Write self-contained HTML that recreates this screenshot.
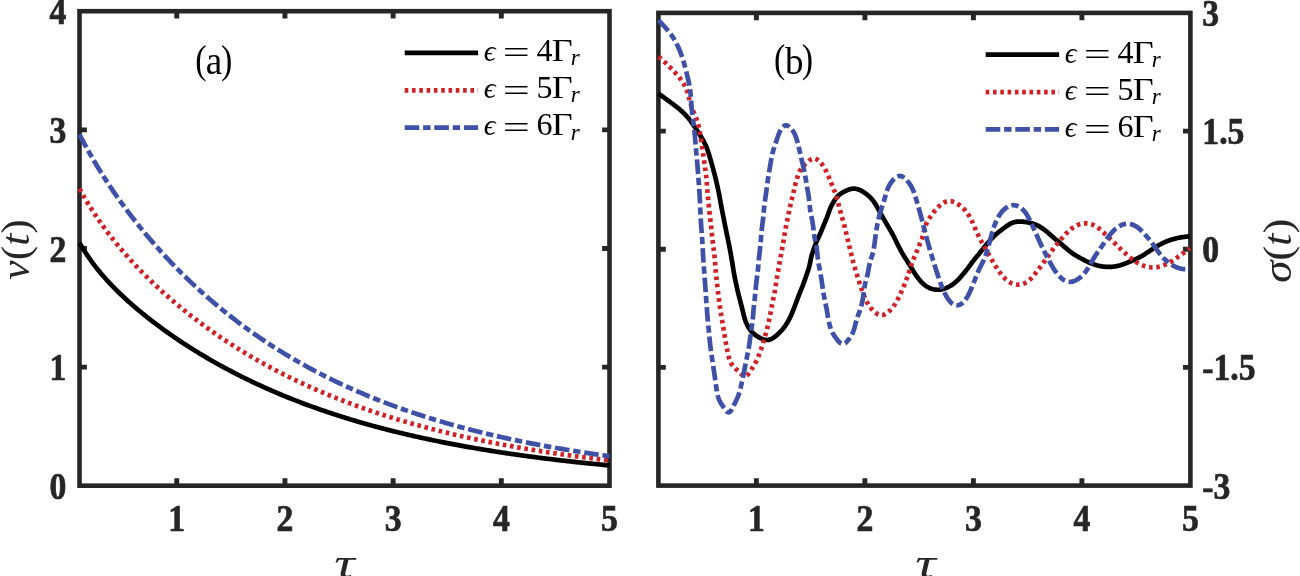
<!DOCTYPE html>
<html><head><meta charset="utf-8"><title>plot</title>
<style>html,body{margin:0;padding:0;background:#fff;}body{width:1300px;height:576px;overflow:hidden;}svg{display:block;}</style>
</head><body>
<svg width="1300" height="576" viewBox="0 0 1300 576">
<rect width="1300" height="576" fill="#fff"/>
<rect x="79.5" y="11.2" width="530.00" height="474.50" fill="none" stroke="#262626" stroke-width="4.6"/>
<path d="M176.75 485.70V478.30M176.75 11.20V18.60M284.94 485.70V478.30M284.94 11.20V18.60M393.13 485.70V478.30M393.13 11.20V18.60M501.32 485.70V478.30M501.32 11.20V18.60M79.50 367.10H86.90M609.50 367.10H602.10M79.50 248.50H86.90M609.50 248.50H602.10M79.50 129.90H86.90M609.50 129.90H602.10" stroke="#262626" stroke-width="4.9" fill="none"/>
<rect x="658.4" y="12.9" width="532.00" height="472.70" fill="none" stroke="#262626" stroke-width="4.6"/>
<path d="M756.40 485.60V478.20M756.40 12.90V20.30M864.90 485.60V478.20M864.90 12.90V20.30M973.40 485.60V478.20M973.40 12.90V20.30M1081.90 485.60V478.20M1081.90 12.90V20.30M658.40 131.08H665.80M1190.40 131.08H1183.00M658.40 249.25H665.80M1190.40 249.25H1183.00M658.40 367.42H665.80M1190.40 367.42H1183.00" stroke="#262626" stroke-width="4.9" fill="none"/>
<path d="M79.50 242.80 L80.83 245.08 L82.16 247.30 L83.48 249.45 L84.81 251.55 L86.14 253.59 L87.47 255.58 L88.80 257.52 L90.13 259.41 L91.45 261.26 L92.78 263.06 L94.11 264.83 L95.44 266.56 L96.77 268.25 L98.10 269.91 L99.42 271.54 L100.75 273.14 L102.08 274.71 L103.41 276.25 L104.74 277.76 L106.07 279.25 L107.39 280.72 L108.72 282.16 L110.05 283.58 L111.38 284.98 L112.71 286.36 L114.04 287.73 L115.36 289.07 L116.69 290.40 L118.02 291.71 L119.35 293.00 L120.68 294.28 L122.01 295.54 L123.33 296.79 L124.66 298.03 L125.99 299.25 L127.32 300.46 L128.65 301.65 L129.98 302.84 L131.30 304.01 L132.63 305.17 L133.96 306.32 L135.29 307.46 L136.62 308.59 L137.95 309.71 L139.27 310.82 L140.60 311.92 L141.93 313.01 L143.26 314.09 L144.59 315.17 L145.92 316.23 L147.24 317.29 L148.57 318.33 L149.90 319.37 L151.23 320.41 L152.56 321.43 L153.89 322.45 L155.21 323.45 L156.54 324.45 L157.87 325.45 L159.20 326.44 L160.53 327.42 L161.86 328.39 L163.18 329.35 L164.51 330.31 L165.84 331.27 L167.17 332.21 L168.50 333.15 L169.83 334.08 L171.15 335.01 L172.48 335.93 L173.81 336.85 L175.14 337.76 L176.47 338.66 L177.80 339.56 L179.12 340.45 L180.45 341.33 L181.78 342.21 L183.11 343.09 L184.44 343.95 L185.77 344.82 L187.09 345.67 L188.42 346.53 L189.75 347.37 L191.08 348.21 L192.41 349.05 L193.74 349.88 L195.06 350.70 L196.39 351.52 L197.72 352.34 L199.05 353.15 L200.38 353.95 L201.71 354.75 L203.03 355.55 L204.36 356.34 L205.69 357.12 L207.02 357.90 L208.35 358.68 L209.68 359.45 L211.00 360.21 L212.33 360.97 L213.66 361.73 L214.99 362.48 L216.32 363.23 L217.65 363.97 L218.97 364.71 L220.30 365.44 L221.63 366.17 L222.96 366.90 L224.29 367.62 L225.62 368.33 L226.94 369.04 L228.27 369.75 L229.60 370.45 L230.93 371.15 L232.26 371.85 L233.59 372.54 L234.91 373.22 L236.24 373.90 L237.57 374.58 L238.90 375.25 L240.23 375.92 L241.56 376.59 L242.88 377.25 L244.21 377.90 L245.54 378.56 L246.87 379.21 L248.20 379.85 L249.53 380.49 L250.85 381.13 L252.18 381.76 L253.51 382.39 L254.84 383.02 L256.17 383.64 L257.49 384.26 L258.82 384.87 L260.15 385.48 L261.48 386.09 L262.81 386.69 L264.14 387.29 L265.46 387.89 L266.79 388.48 L268.12 389.07 L269.45 389.66 L270.78 390.24 L272.11 390.82 L273.43 391.39 L274.76 391.96 L276.09 392.53 L277.42 393.09 L278.75 393.65 L280.08 394.21 L281.40 394.77 L282.73 395.32 L284.06 395.86 L285.39 396.41 L286.72 396.95 L288.05 397.49 L289.37 398.02 L290.70 398.55 L292.03 399.08 L293.36 399.60 L294.69 400.12 L296.02 400.64 L297.34 401.16 L298.67 401.67 L300.00 402.18 L301.33 402.68 L302.66 403.19 L303.99 403.69 L305.31 404.18 L306.64 404.68 L307.97 405.17 L309.30 405.65 L310.63 406.14 L311.96 406.62 L313.28 407.10 L314.61 407.58 L315.94 408.05 L317.27 408.52 L318.60 408.99 L319.93 409.45 L321.25 409.91 L322.58 410.37 L323.91 410.83 L325.24 411.28 L326.57 411.73 L327.90 412.18 L329.22 412.62 L330.55 413.07 L331.88 413.51 L333.21 413.94 L334.54 414.38 L335.87 414.81 L337.19 415.24 L338.52 415.67 L339.85 416.09 L341.18 416.51 L342.51 416.93 L343.84 417.35 L345.16 417.76 L346.49 418.17 L347.82 418.58 L349.15 418.99 L350.48 419.39 L351.81 419.79 L353.13 420.19 L354.46 420.59 L355.79 420.98 L357.12 421.38 L358.45 421.77 L359.78 422.15 L361.10 422.54 L362.43 422.92 L363.76 423.30 L365.09 423.68 L366.42 424.05 L367.75 424.43 L369.07 424.80 L370.40 425.17 L371.73 425.53 L373.06 425.90 L374.39 426.26 L375.72 426.62 L377.04 426.98 L378.37 427.33 L379.70 427.69 L381.03 428.04 L382.36 428.39 L383.69 428.73 L385.01 429.08 L386.34 429.42 L387.67 429.76 L389.00 430.10 L390.33 430.44 L391.66 430.77 L392.98 431.10 L394.31 431.44 L395.64 431.76 L396.97 432.09 L398.30 432.41 L399.63 432.74 L400.95 433.06 L402.28 433.38 L403.61 433.69 L404.94 434.01 L406.27 434.32 L407.60 434.63 L408.92 434.94 L410.25 435.25 L411.58 435.55 L412.91 435.86 L414.24 436.16 L415.57 436.46 L416.89 436.76 L418.22 437.05 L419.55 437.35 L420.88 437.64 L422.21 437.93 L423.54 438.22 L424.86 438.51 L426.19 438.80 L427.52 439.08 L428.85 439.36 L430.18 439.64 L431.51 439.92 L432.83 440.20 L434.16 440.47 L435.49 440.75 L436.82 441.02 L438.15 441.29 L439.47 441.56 L440.80 441.83 L442.13 442.09 L443.46 442.36 L444.79 442.62 L446.12 442.88 L447.44 443.14 L448.77 443.40 L450.10 443.65 L451.43 443.91 L452.76 444.16 L454.09 444.41 L455.41 444.66 L456.74 444.91 L458.07 445.16 L459.40 445.40 L460.73 445.65 L462.06 445.89 L463.38 446.13 L464.71 446.37 L466.04 446.61 L467.37 446.85 L468.70 447.08 L470.03 447.31 L471.35 447.55 L472.68 447.78 L474.01 448.01 L475.34 448.24 L476.67 448.46 L478.00 448.69 L479.32 448.91 L480.65 449.13 L481.98 449.36 L483.31 449.58 L484.64 449.80 L485.97 450.01 L487.29 450.23 L488.62 450.44 L489.95 450.66 L491.28 450.87 L492.61 451.08 L493.94 451.29 L495.26 451.50 L496.59 451.71 L497.92 451.91 L499.25 452.12 L500.58 452.32 L501.91 452.52 L503.23 452.72 L504.56 452.92 L505.89 453.12 L507.22 453.32 L508.55 453.51 L509.88 453.71 L511.20 453.90 L512.53 454.09 L513.86 454.29 L515.19 454.48 L516.52 454.67 L517.85 454.85 L519.17 455.04 L520.50 455.23 L521.83 455.41 L523.16 455.59 L524.49 455.78 L525.82 455.96 L527.14 456.14 L528.47 456.32 L529.80 456.49 L531.13 456.67 L532.46 456.85 L533.79 457.02 L535.11 457.20 L536.44 457.37 L537.77 457.54 L539.10 457.71 L540.43 457.88 L541.76 458.05 L543.08 458.22 L544.41 458.38 L545.74 458.55 L547.07 458.71 L548.40 458.87 L549.73 459.04 L551.05 459.20 L552.38 459.36 L553.71 459.52 L555.04 459.68 L556.37 459.83 L557.70 459.99 L559.02 460.15 L560.35 460.30 L561.68 460.46 L563.01 460.61 L564.34 460.76 L565.67 460.91 L566.99 461.06 L568.32 461.21 L569.65 461.36 L570.98 461.51 L572.31 461.65 L573.64 461.80 L574.96 461.94 L576.29 462.09 L577.62 462.23 L578.95 462.37 L580.28 462.51 L581.61 462.65 L582.93 462.79 L584.26 462.93 L585.59 463.07 L586.92 463.21 L588.25 463.34 L589.58 463.48 L590.90 463.61 L592.23 463.75 L593.56 463.88 L594.89 464.01 L596.22 464.14 L597.55 464.27 L598.87 464.40 L600.20 464.53 L601.53 464.66 L602.86 464.79 L604.19 464.91 L605.52 465.04 L606.84 465.17 L608.17 465.29 L609.50 465.41" fill="none" stroke="#000000" stroke-width="4.7" stroke-dasharray="none"/>
<path d="M79.50 188.68 L80.83 191.10 L82.16 193.48 L83.48 195.81 L84.81 198.11 L86.14 200.36 L87.47 202.58 L88.80 204.76 L90.13 206.90 L91.45 209.01 L92.78 211.08 L94.11 213.13 L95.44 215.14 L96.77 217.12 L98.10 219.08 L99.42 221.00 L100.75 222.90 L102.08 224.77 L103.41 226.62 L104.74 228.45 L106.07 230.25 L107.39 232.02 L108.72 233.78 L110.05 235.51 L111.38 237.23 L112.71 238.92 L114.04 240.59 L115.36 242.25 L116.69 243.88 L118.02 245.50 L119.35 247.10 L120.68 248.69 L122.01 250.25 L123.33 251.81 L124.66 253.34 L125.99 254.86 L127.32 256.37 L128.65 257.86 L129.98 259.33 L131.30 260.80 L132.63 262.25 L133.96 263.68 L135.29 265.11 L136.62 266.52 L137.95 267.91 L139.27 269.30 L140.60 270.67 L141.93 272.04 L143.26 273.39 L144.59 274.73 L145.92 276.06 L147.24 277.38 L148.57 278.68 L149.90 279.98 L151.23 281.27 L152.56 282.54 L153.89 283.81 L155.21 285.07 L156.54 286.32 L157.87 287.56 L159.20 288.79 L160.53 290.01 L161.86 291.22 L163.18 292.42 L164.51 293.61 L165.84 294.80 L167.17 295.98 L168.50 297.14 L169.83 298.30 L171.15 299.46 L172.48 300.60 L173.81 301.74 L175.14 302.86 L176.47 303.98 L177.80 305.10 L179.12 306.20 L180.45 307.30 L181.78 308.39 L183.11 309.47 L184.44 310.55 L185.77 311.62 L187.09 312.68 L188.42 313.74 L189.75 314.78 L191.08 315.82 L192.41 316.86 L193.74 317.89 L195.06 318.91 L196.39 319.92 L197.72 320.93 L199.05 321.93 L200.38 322.92 L201.71 323.91 L203.03 324.89 L204.36 325.87 L205.69 326.84 L207.02 327.80 L208.35 328.76 L209.68 329.71 L211.00 330.66 L212.33 331.60 L213.66 332.53 L214.99 333.46 L216.32 334.38 L217.65 335.29 L218.97 336.20 L220.30 337.11 L221.63 338.01 L222.96 338.90 L224.29 339.79 L225.62 340.67 L226.94 341.55 L228.27 342.42 L229.60 343.29 L230.93 344.15 L232.26 345.00 L233.59 345.85 L234.91 346.70 L236.24 347.54 L237.57 348.37 L238.90 349.20 L240.23 350.03 L241.56 350.85 L242.88 351.66 L244.21 352.47 L245.54 353.27 L246.87 354.07 L248.20 354.87 L249.53 355.66 L250.85 356.44 L252.18 357.22 L253.51 358.00 L254.84 358.77 L256.17 359.53 L257.49 360.29 L258.82 361.05 L260.15 361.80 L261.48 362.55 L262.81 363.29 L264.14 364.03 L265.46 364.77 L266.79 365.50 L268.12 366.22 L269.45 366.94 L270.78 367.66 L272.11 368.37 L273.43 369.08 L274.76 369.78 L276.09 370.48 L277.42 371.17 L278.75 371.86 L280.08 372.55 L281.40 373.23 L282.73 373.91 L284.06 374.59 L285.39 375.26 L286.72 375.92 L288.05 376.58 L289.37 377.24 L290.70 377.89 L292.03 378.54 L293.36 379.19 L294.69 379.83 L296.02 380.47 L297.34 381.11 L298.67 381.74 L300.00 382.36 L301.33 382.99 L302.66 383.60 L303.99 384.22 L305.31 384.83 L306.64 385.44 L307.97 386.04 L309.30 386.64 L310.63 387.24 L311.96 387.84 L313.28 388.43 L314.61 389.01 L315.94 389.59 L317.27 390.17 L318.60 390.75 L319.93 391.32 L321.25 391.89 L322.58 392.46 L323.91 393.02 L325.24 393.58 L326.57 394.13 L327.90 394.68 L329.22 395.23 L330.55 395.78 L331.88 396.32 L333.21 396.86 L334.54 397.39 L335.87 397.93 L337.19 398.45 L338.52 398.98 L339.85 399.50 L341.18 400.02 L342.51 400.54 L343.84 401.05 L345.16 401.56 L346.49 402.07 L347.82 402.57 L349.15 403.07 L350.48 403.57 L351.81 404.07 L353.13 404.56 L354.46 405.05 L355.79 405.53 L357.12 406.02 L358.45 406.50 L359.78 406.97 L361.10 407.45 L362.43 407.92 L363.76 408.39 L365.09 408.86 L366.42 409.32 L367.75 409.78 L369.07 410.24 L370.40 410.69 L371.73 411.14 L373.06 411.59 L374.39 412.04 L375.72 412.48 L377.04 412.92 L378.37 413.36 L379.70 413.80 L381.03 414.23 L382.36 414.66 L383.69 415.09 L385.01 415.52 L386.34 415.94 L387.67 416.36 L389.00 416.78 L390.33 417.19 L391.66 417.61 L392.98 418.02 L394.31 418.42 L395.64 418.83 L396.97 419.23 L398.30 419.63 L399.63 420.03 L400.95 420.43 L402.28 420.82 L403.61 421.21 L404.94 421.60 L406.27 421.99 L407.60 422.37 L408.92 422.75 L410.25 423.13 L411.58 423.51 L412.91 423.88 L414.24 424.26 L415.57 424.63 L416.89 424.99 L418.22 425.36 L419.55 425.72 L420.88 426.08 L422.21 426.44 L423.54 426.80 L424.86 427.16 L426.19 427.51 L427.52 427.86 L428.85 428.21 L430.18 428.55 L431.51 428.90 L432.83 429.24 L434.16 429.58 L435.49 429.92 L436.82 430.26 L438.15 430.59 L439.47 430.92 L440.80 431.25 L442.13 431.58 L443.46 431.91 L444.79 432.23 L446.12 432.55 L447.44 432.87 L448.77 433.19 L450.10 433.51 L451.43 433.82 L452.76 434.13 L454.09 434.45 L455.41 434.75 L456.74 435.06 L458.07 435.37 L459.40 435.67 L460.73 435.97 L462.06 436.27 L463.38 436.57 L464.71 436.86 L466.04 437.16 L467.37 437.45 L468.70 437.74 L470.03 438.03 L471.35 438.32 L472.68 438.60 L474.01 438.89 L475.34 439.17 L476.67 439.45 L478.00 439.73 L479.32 440.01 L480.65 440.28 L481.98 440.56 L483.31 440.83 L484.64 441.10 L485.97 441.37 L487.29 441.63 L488.62 441.90 L489.95 442.16 L491.28 442.43 L492.61 442.69 L493.94 442.95 L495.26 443.20 L496.59 443.46 L497.92 443.71 L499.25 443.97 L500.58 444.22 L501.91 444.47 L503.23 444.72 L504.56 444.96 L505.89 445.21 L507.22 445.45 L508.55 445.70 L509.88 445.94 L511.20 446.18 L512.53 446.41 L513.86 446.65 L515.19 446.89 L516.52 447.12 L517.85 447.35 L519.17 447.58 L520.50 447.81 L521.83 448.04 L523.16 448.27 L524.49 448.49 L525.82 448.72 L527.14 448.94 L528.47 449.16 L529.80 449.38 L531.13 449.60 L532.46 449.82 L533.79 450.04 L535.11 450.25 L536.44 450.46 L537.77 450.68 L539.10 450.89 L540.43 451.10 L541.76 451.31 L543.08 451.51 L544.41 451.72 L545.74 451.92 L547.07 452.13 L548.40 452.33 L549.73 452.53 L551.05 452.73 L552.38 452.93 L553.71 453.13 L555.04 453.32 L556.37 453.52 L557.70 453.71 L559.02 453.91 L560.35 454.10 L561.68 454.29 L563.01 454.48 L564.34 454.66 L565.67 454.85 L566.99 455.04 L568.32 455.22 L569.65 455.41 L570.98 455.59 L572.31 455.77 L573.64 455.95 L574.96 456.13 L576.29 456.31 L577.62 456.49 L578.95 456.66 L580.28 456.84 L581.61 457.01 L582.93 457.18 L584.26 457.35 L585.59 457.53 L586.92 457.70 L588.25 457.86 L589.58 458.03 L590.90 458.20 L592.23 458.36 L593.56 458.53 L594.89 458.69 L596.22 458.86 L597.55 459.02 L598.87 459.18 L600.20 459.34 L601.53 459.50 L602.86 459.65 L604.19 459.81 L605.52 459.97 L606.84 460.12 L608.17 460.28 L609.50 460.43" fill="none" stroke="#cc2228" stroke-width="4.7" stroke-dasharray="3.6 3.7"/>
<path d="M79.50 134.47 L80.83 137.03 L82.16 139.57 L83.48 142.07 L84.81 144.54 L86.14 146.98 L87.47 149.39 L88.80 151.77 L90.13 154.12 L91.45 156.44 L92.78 158.74 L94.11 161.01 L95.44 163.25 L96.77 165.47 L98.10 167.67 L99.42 169.84 L100.75 171.99 L102.08 174.12 L103.41 176.22 L104.74 178.31 L106.07 180.37 L107.39 182.41 L108.72 184.43 L110.05 186.43 L111.38 188.42 L112.71 190.38 L114.04 192.33 L115.36 194.26 L116.69 196.17 L118.02 198.06 L119.35 199.94 L120.68 201.79 L122.01 203.64 L123.33 205.47 L124.66 207.28 L125.99 209.07 L127.32 210.86 L128.65 212.62 L129.98 214.37 L131.30 216.11 L132.63 217.84 L133.96 219.55 L135.29 221.24 L136.62 222.92 L137.95 224.59 L139.27 226.25 L140.60 227.89 L141.93 229.53 L143.26 231.14 L144.59 232.75 L145.92 234.35 L147.24 235.93 L148.57 237.50 L149.90 239.06 L151.23 240.61 L152.56 242.14 L153.89 243.67 L155.21 245.18 L156.54 246.69 L157.87 248.18 L159.20 249.66 L160.53 251.14 L161.86 252.60 L163.18 254.05 L164.51 255.49 L165.84 256.92 L167.17 258.34 L168.50 259.76 L169.83 261.16 L171.15 262.55 L172.48 263.93 L173.81 265.31 L175.14 266.67 L176.47 268.03 L177.80 269.37 L179.12 270.71 L180.45 272.04 L181.78 273.36 L183.11 274.67 L184.44 275.97 L185.77 277.27 L187.09 278.55 L188.42 279.83 L189.75 281.10 L191.08 282.36 L192.41 283.61 L193.74 284.85 L195.06 286.09 L196.39 287.32 L197.72 288.54 L199.05 289.75 L200.38 290.96 L201.71 292.15 L203.03 293.34 L204.36 294.52 L205.69 295.70 L207.02 296.86 L208.35 298.02 L209.68 299.18 L211.00 300.32 L212.33 301.46 L213.66 302.59 L214.99 303.71 L216.32 304.83 L217.65 305.93 L218.97 307.04 L220.30 308.13 L221.63 309.22 L222.96 310.30 L224.29 311.37 L225.62 312.44 L226.94 313.50 L228.27 314.56 L229.60 315.61 L230.93 316.65 L232.26 317.68 L233.59 318.71 L234.91 319.73 L236.24 320.75 L237.57 321.76 L238.90 322.76 L240.23 323.76 L241.56 324.75 L242.88 325.73 L244.21 326.71 L245.54 327.68 L246.87 328.65 L248.20 329.61 L249.53 330.56 L250.85 331.51 L252.18 332.46 L253.51 333.39 L254.84 334.32 L256.17 335.25 L257.49 336.17 L258.82 337.08 L260.15 337.99 L261.48 338.89 L262.81 339.79 L264.14 340.68 L265.46 341.57 L266.79 342.45 L268.12 343.32 L269.45 344.19 L270.78 345.06 L272.11 345.92 L273.43 346.77 L274.76 347.62 L276.09 348.46 L277.42 349.30 L278.75 350.13 L280.08 350.96 L281.40 351.79 L282.73 352.60 L284.06 353.42 L285.39 354.22 L286.72 355.03 L288.05 355.83 L289.37 356.62 L290.70 357.41 L292.03 358.19 L293.36 358.97 L294.69 359.74 L296.02 360.51 L297.34 361.28 L298.67 362.04 L300.00 362.79 L301.33 363.54 L302.66 364.29 L303.99 365.03 L305.31 365.77 L306.64 366.50 L307.97 367.23 L309.30 367.95 L310.63 368.67 L311.96 369.38 L313.28 370.09 L314.61 370.80 L315.94 371.50 L317.27 372.20 L318.60 372.89 L319.93 373.58 L321.25 374.26 L322.58 374.94 L323.91 375.62 L325.24 376.29 L326.57 376.96 L327.90 377.62 L329.22 378.28 L330.55 378.94 L331.88 379.59 L333.21 380.24 L334.54 380.88 L335.87 381.52 L337.19 382.16 L338.52 382.79 L339.85 383.42 L341.18 384.04 L342.51 384.66 L343.84 385.28 L345.16 385.89 L346.49 386.50 L347.82 387.11 L349.15 387.71 L350.48 388.31 L351.81 388.90 L353.13 389.49 L354.46 390.08 L355.79 390.66 L357.12 391.24 L358.45 391.82 L359.78 392.39 L361.10 392.96 L362.43 393.53 L363.76 394.09 L365.09 394.65 L366.42 395.21 L367.75 395.76 L369.07 396.31 L370.40 396.85 L371.73 397.40 L373.06 397.93 L374.39 398.47 L375.72 399.00 L377.04 399.53 L378.37 400.06 L379.70 400.58 L381.03 401.10 L382.36 401.62 L383.69 402.13 L385.01 402.64 L386.34 403.15 L387.67 403.65 L389.00 404.15 L390.33 404.65 L391.66 405.14 L392.98 405.63 L394.31 406.12 L395.64 406.61 L396.97 407.09 L398.30 407.57 L399.63 408.05 L400.95 408.52 L402.28 408.99 L403.61 409.46 L404.94 409.93 L406.27 410.39 L407.60 410.85 L408.92 411.31 L410.25 411.76 L411.58 412.21 L412.91 412.66 L414.24 413.11 L415.57 413.55 L416.89 413.99 L418.22 414.43 L419.55 414.86 L420.88 415.29 L422.21 415.72 L423.54 416.15 L424.86 416.58 L426.19 417.00 L427.52 417.42 L428.85 417.83 L430.18 418.25 L431.51 418.66 L432.83 419.07 L434.16 419.48 L435.49 419.88 L436.82 420.28 L438.15 420.68 L439.47 421.08 L440.80 421.47 L442.13 421.86 L443.46 422.25 L444.79 422.64 L446.12 423.03 L447.44 423.41 L448.77 423.79 L450.10 424.17 L451.43 424.54 L452.76 424.91 L454.09 425.29 L455.41 425.65 L456.74 426.02 L458.07 426.39 L459.40 426.75 L460.73 427.11 L462.06 427.46 L463.38 427.82 L464.71 428.17 L466.04 428.52 L467.37 428.87 L468.70 429.22 L470.03 429.56 L471.35 429.91 L472.68 430.25 L474.01 430.59 L475.34 430.92 L476.67 431.26 L478.00 431.59 L479.32 431.92 L480.65 432.25 L481.98 432.57 L483.31 432.90 L484.64 433.22 L485.97 433.54 L487.29 433.86 L488.62 434.18 L489.95 434.49 L491.28 434.80 L492.61 435.11 L493.94 435.42 L495.26 435.73 L496.59 436.03 L497.92 436.34 L499.25 436.64 L500.58 436.94 L501.91 437.24 L503.23 437.53 L504.56 437.83 L505.89 438.12 L507.22 438.41 L508.55 438.70 L509.88 438.98 L511.20 439.27 L512.53 439.55 L513.86 439.83 L515.19 440.11 L516.52 440.39 L517.85 440.67 L519.17 440.94 L520.50 441.22 L521.83 441.49 L523.16 441.76 L524.49 442.03 L525.82 442.29 L527.14 442.56 L528.47 442.82 L529.80 443.08 L531.13 443.34 L532.46 443.60 L533.79 443.86 L535.11 444.11 L536.44 444.37 L537.77 444.62 L539.10 444.87 L540.43 445.12 L541.76 445.37 L543.08 445.61 L544.41 445.86 L545.74 446.10 L547.07 446.34 L548.40 446.58 L549.73 446.82 L551.05 447.06 L552.38 447.29 L553.71 447.53 L555.04 447.76 L556.37 447.99 L557.70 448.22 L559.02 448.45 L560.35 448.68 L561.68 448.91 L563.01 449.13 L564.34 449.35 L565.67 449.58 L566.99 449.80 L568.32 450.01 L569.65 450.23 L570.98 450.45 L572.31 450.66 L573.64 450.88 L574.96 451.09 L576.29 451.30 L577.62 451.51 L578.95 451.72 L580.28 451.93 L581.61 452.13 L582.93 452.34 L584.26 452.54 L585.59 452.74 L586.92 452.95 L588.25 453.15 L589.58 453.34 L590.90 453.54 L592.23 453.74 L593.56 453.93 L594.89 454.13 L596.22 454.32 L597.55 454.51 L598.87 454.70 L600.20 454.89 L601.53 455.08 L602.86 455.27 L604.19 455.45 L605.52 455.64 L606.84 455.82 L608.17 456.00 L609.50 456.18" fill="none" stroke="#3f51a6" stroke-width="4.7" stroke-dasharray="14.6 3.8 7.4 3.8"/>
<path d="M658.53 93.64 L659.34 94.22 L660.16 94.80 L660.97 95.39 L661.78 95.97 L662.59 96.55 L663.41 97.13 L664.22 97.72 L665.03 98.30 L665.84 98.89 L666.65 99.47 L667.46 100.06 L668.27 100.65 L669.08 101.24 L669.88 101.83 L670.69 102.42 L671.49 103.02 L672.29 103.61 L673.09 104.21 L673.89 104.82 L674.68 105.42 L675.48 106.03 L676.26 106.65 L677.05 107.27 L677.82 107.89 L678.60 108.52 L679.36 109.16 L680.12 109.81 L680.87 110.46 L681.62 111.12 L682.35 111.79 L683.08 112.48 L683.79 113.17 L684.49 113.87 L685.18 114.59 L685.86 115.31 L686.53 116.05 L687.19 116.79 L687.83 117.55 L688.47 118.32 L689.09 119.09 L689.70 119.88 L690.31 120.67 L690.90 121.47 L691.48 122.28 L692.06 123.09 L692.63 123.91 L693.20 124.73 L693.76 125.56 L694.32 126.38 L694.88 127.22 L695.43 128.05 L695.98 128.88 L696.53 129.72 L697.07 130.56 L697.62 131.39 L698.16 132.23 L698.70 133.07 L699.24 133.91 L699.78 134.76 L700.31 135.60 L700.83 136.45 L701.35 137.30 L701.86 138.16 L702.37 139.02 L702.86 139.88 L703.35 140.75 L703.82 141.63 L704.28 142.51 L704.72 143.40 L705.15 144.30 L705.57 145.20 L705.97 146.11 L706.36 147.02 L706.73 147.94 L707.09 148.87 L707.44 149.80 L707.77 150.74 L708.09 151.68 L708.41 152.63 L708.71 153.58 L709.01 154.53 L709.30 155.48 L709.59 156.44 L709.87 157.40 L710.15 158.36 L710.43 159.32 L710.70 160.28 L710.98 161.24 L711.25 162.20 L711.52 163.16 L711.79 164.13 L712.06 165.09 L712.33 166.05 L712.60 167.02 L712.86 167.98 L713.13 168.94 L713.39 169.91 L713.65 170.88 L713.90 171.84 L714.16 172.81 L714.41 173.78 L714.66 174.75 L714.90 175.71 L715.15 176.68 L715.39 177.65 L715.63 178.62 L715.86 179.60 L716.10 180.57 L716.33 181.54 L716.56 182.51 L716.79 183.49 L717.01 184.46 L717.23 185.44 L717.45 186.41 L717.67 187.39 L717.88 188.37 L718.09 189.34 L718.29 190.32 L718.49 191.30 L718.69 192.28 L718.89 193.26 L719.08 194.24 L719.27 195.22 L719.45 196.21 L719.63 197.19 L719.82 198.17 L720.00 199.16 L720.18 200.14 L720.35 201.12 L720.53 202.11 L720.71 203.09 L720.89 204.07 L721.08 205.06 L721.26 206.04 L721.44 207.02 L721.63 208.00 L721.82 208.99 L722.01 209.97 L722.20 210.95 L722.39 211.93 L722.58 212.91 L722.77 213.89 L722.96 214.88 L723.16 215.86 L723.35 216.84 L723.54 217.82 L723.73 218.80 L723.93 219.78 L724.12 220.76 L724.31 221.74 L724.50 222.73 L724.70 223.71 L724.89 224.69 L725.09 225.67 L725.28 226.65 L725.48 227.63 L725.68 228.61 L725.88 229.59 L726.09 230.57 L726.29 231.55 L726.50 232.52 L726.70 233.50 L726.91 234.48 L727.12 235.46 L727.32 236.44 L727.53 237.42 L727.73 238.39 L727.94 239.37 L728.14 240.35 L728.34 241.33 L728.54 242.31 L728.73 243.29 L728.93 244.27 L729.12 245.25 L729.31 246.23 L729.50 247.22 L729.69 248.20 L729.88 249.18 L730.06 250.16 L730.25 251.15 L730.43 252.13 L730.61 253.11 L730.79 254.10 L730.96 255.08 L731.14 256.07 L731.31 257.05 L731.48 258.04 L731.64 259.02 L731.81 260.01 L731.97 260.99 L732.13 261.98 L732.29 262.97 L732.45 263.95 L732.60 264.94 L732.76 265.93 L732.92 266.92 L733.08 267.90 L733.24 268.89 L733.41 269.88 L733.57 270.86 L733.74 271.85 L733.92 272.83 L734.09 273.82 L734.27 274.80 L734.46 275.78 L734.64 276.76 L734.84 277.74 L735.03 278.72 L735.23 279.70 L735.43 280.68 L735.63 281.66 L735.84 282.64 L736.05 283.62 L736.26 284.60 L736.47 285.57 L736.69 286.55 L736.91 287.52 L737.13 288.50 L737.35 289.47 L737.58 290.45 L737.81 291.42 L738.04 292.39 L738.28 293.36 L738.52 294.34 L738.76 295.31 L739.00 296.28 L739.24 297.25 L739.49 298.21 L739.74 299.18 L739.99 300.15 L740.24 301.12 L740.49 302.09 L740.74 303.05 L741.00 304.02 L741.25 304.99 L741.50 305.96 L741.74 306.93 L741.99 307.90 L742.23 308.86 L742.47 309.83 L742.71 310.81 L742.94 311.78 L743.18 312.75 L743.42 313.72 L743.66 314.68 L743.90 315.65 L744.16 316.61 L744.42 317.57 L744.70 318.53 L745.00 319.48 L745.31 320.42 L745.64 321.36 L746.00 322.28 L746.37 323.20 L746.77 324.11 L747.20 325.00 L747.65 325.88 L748.13 326.75 L748.63 327.60 L749.17 328.44 L749.73 329.25 L750.32 330.05 L750.93 330.83 L751.58 331.58 L752.26 332.30 L752.96 333.00 L753.69 333.67 L754.45 334.31 L755.24 334.92 L756.04 335.50 L756.87 336.05 L757.71 336.58 L758.57 337.09 L759.44 337.56 L760.33 338.02 L761.23 338.44 L762.14 338.83 L763.06 339.19 L764.00 339.49 L764.94 339.74 L765.89 339.91 L766.84 339.99 L767.79 339.98 L768.73 339.86 L769.65 339.65 L770.56 339.34 L771.44 338.94 L772.29 338.48 L773.13 337.96 L773.94 337.40 L774.74 336.81 L775.53 336.20 L776.30 335.57 L777.06 334.92 L777.81 334.26 L778.55 333.59 L779.28 332.90 L779.99 332.20 L780.68 331.49 L781.36 330.75 L782.02 330.01 L782.66 329.24 L783.28 328.46 L783.89 327.67 L784.48 326.87 L785.06 326.05 L785.62 325.23 L786.16 324.39 L786.70 323.55 L787.22 322.69 L787.72 321.83 L788.22 320.96 L788.70 320.09 L789.16 319.20 L789.62 318.31 L790.06 317.42 L790.49 316.52 L790.92 315.61 L791.33 314.70 L791.73 313.78 L792.12 312.86 L792.50 311.94 L792.88 311.02 L793.25 310.09 L793.62 309.16 L793.98 308.22 L794.34 307.29 L794.70 306.36 L795.05 305.42 L795.41 304.49 L795.76 303.55 L796.11 302.62 L796.46 301.68 L796.81 300.74 L797.16 299.81 L797.51 298.87 L797.86 297.93 L798.21 297.00 L798.56 296.06 L798.91 295.12 L799.27 294.19 L799.63 293.26 L799.99 292.33 L800.37 291.40 L800.74 290.47 L801.12 289.55 L801.50 288.62 L801.88 287.70 L802.26 286.77 L802.63 285.84 L803.00 284.91 L803.36 283.98 L803.71 283.04 L804.05 282.11 L804.40 281.17 L804.73 280.22 L805.06 279.28 L805.39 278.34 L805.72 277.39 L806.05 276.45 L806.37 275.50 L806.70 274.56 L807.02 273.61 L807.34 272.66 L807.65 271.71 L807.96 270.76 L808.27 269.81 L808.57 268.86 L808.85 267.90 L809.12 266.94 L809.38 265.97 L809.61 265.00 L809.83 264.03 L810.03 263.05 L810.22 262.07 L810.40 261.09 L810.59 260.11 L810.78 259.13 L810.99 258.15 L811.22 257.18 L811.46 256.21 L811.73 255.25 L812.01 254.29 L812.30 253.34 L812.61 252.39 L812.93 251.44 L813.25 250.49 L813.58 249.55 L813.91 248.61 L814.25 247.67 L814.59 246.73 L814.94 245.79 L815.29 244.85 L815.65 243.92 L816.02 242.99 L816.40 242.07 L816.79 241.15 L817.20 240.24 L817.61 239.33 L818.03 238.42 L818.45 237.51 L818.88 236.61 L819.30 235.70 L819.72 234.79 L820.13 233.88 L820.53 232.97 L820.92 232.05 L821.31 231.13 L821.69 230.20 L822.07 229.28 L822.44 228.35 L822.82 227.42 L823.20 226.50 L823.58 225.57 L823.96 224.65 L824.34 223.72 L824.72 222.80 L825.11 221.88 L825.49 220.95 L825.88 220.03 L826.26 219.11 L826.63 218.18 L827.00 217.25 L827.35 216.32 L827.70 215.38 L828.04 214.44 L828.36 213.49 L828.69 212.55 L829.02 211.61 L829.35 210.67 L829.70 209.73 L830.07 208.80 L830.45 207.88 L830.86 206.97 L831.29 206.07 L831.74 205.18 L832.21 204.30 L832.69 203.43 L833.20 202.56 L833.71 201.71 L834.24 200.87 L834.79 200.03 L835.36 199.22 L835.96 198.41 L836.57 197.63 L837.21 196.88 L837.89 196.15 L838.59 195.46 L839.33 194.80 L840.10 194.19 L840.90 193.61 L841.73 193.06 L842.58 192.55 L843.45 192.06 L844.33 191.59 L845.22 191.14 L846.11 190.70 L847.02 190.29 L847.94 189.90 L848.86 189.55 L849.80 189.25 L850.75 189.00 L851.71 188.81 L852.67 188.69 L853.65 188.64 L854.62 188.67 L855.59 188.78 L856.55 188.95 L857.50 189.19 L858.44 189.49 L859.36 189.84 L860.27 190.24 L861.16 190.68 L862.03 191.15 L862.89 191.65 L863.73 192.18 L864.56 192.73 L865.38 193.30 L866.18 193.90 L866.97 194.51 L867.74 195.14 L868.49 195.79 L869.23 196.46 L869.95 197.16 L870.64 197.87 L871.32 198.60 L871.97 199.35 L872.61 200.12 L873.22 200.91 L873.81 201.71 L874.38 202.53 L874.94 203.36 L875.48 204.20 L876.00 205.05 L876.51 205.91 L877.00 206.78 L877.49 207.65 L877.96 208.53 L878.44 209.41 L878.91 210.29 L879.38 211.17 L879.85 212.06 L880.32 212.94 L880.80 213.81 L881.28 214.69 L881.77 215.56 L882.26 216.43 L882.76 217.30 L883.26 218.17 L883.76 219.03 L884.26 219.90 L884.77 220.76 L885.27 221.62 L885.78 222.49 L886.28 223.35 L886.78 224.21 L887.28 225.08 L887.79 225.94 L888.29 226.81 L888.79 227.67 L889.30 228.54 L889.80 229.40 L890.30 230.26 L890.81 231.13 L891.30 232.00 L891.80 232.86 L892.29 233.74 L892.77 234.61 L893.24 235.50 L893.70 236.38 L894.16 237.27 L894.60 238.17 L895.04 239.06 L895.48 239.96 L895.91 240.87 L896.34 241.77 L896.77 242.67 L897.21 243.57 L897.65 244.47 L898.09 245.36 L898.54 246.26 L898.99 247.15 L899.45 248.04 L899.92 248.92 L900.39 249.80 L900.87 250.68 L901.35 251.56 L901.84 252.43 L902.34 253.30 L902.84 254.16 L903.35 255.02 L903.87 255.87 L904.39 256.73 L904.92 257.57 L905.46 258.42 L906.00 259.26 L906.54 260.10 L907.08 260.94 L907.62 261.78 L908.16 262.62 L908.70 263.47 L909.23 264.31 L909.76 265.16 L910.28 266.02 L910.79 266.87 L911.31 267.73 L911.82 268.59 L912.33 269.45 L912.84 270.31 L913.36 271.16 L913.88 272.01 L914.41 272.86 L914.96 273.70 L915.51 274.53 L916.07 275.36 L916.65 276.17 L917.24 276.98 L917.84 277.78 L918.46 278.56 L919.08 279.34 L919.72 280.11 L920.38 280.86 L921.04 281.60 L921.73 282.33 L922.43 283.04 L923.15 283.73 L923.89 284.39 L924.65 285.03 L925.44 285.63 L926.25 286.20 L927.09 286.73 L927.94 287.22 L928.83 287.67 L929.73 288.08 L930.65 288.45 L931.58 288.78 L932.53 289.05 L933.49 289.29 L934.46 289.48 L935.44 289.61 L936.43 289.70 L937.42 289.75 L938.41 289.74 L939.39 289.68 L940.38 289.57 L941.35 289.42 L942.33 289.22 L943.29 288.98 L944.24 288.70 L945.18 288.38 L946.11 288.03 L947.03 287.64 L947.93 287.23 L948.82 286.78 L949.69 286.31 L950.55 285.80 L951.40 285.28 L952.23 284.72 L953.04 284.15 L953.83 283.55 L954.61 282.92 L955.38 282.28 L956.12 281.62 L956.85 280.94 L957.57 280.25 L958.27 279.54 L958.96 278.82 L959.64 278.08 L960.31 277.34 L960.97 276.59 L961.63 275.84 L962.28 275.08 L962.92 274.31 L963.56 273.54 L964.20 272.77 L964.83 272.00 L965.46 271.22 L966.08 270.44 L966.70 269.66 L967.32 268.87 L967.93 268.08 L968.53 267.28 L969.13 266.48 L969.72 265.67 L970.32 264.87 L970.91 264.06 L971.50 263.26 L972.10 262.45 L972.70 261.65 L973.30 260.86 L973.91 260.07 L974.53 259.28 L975.15 258.50 L975.78 257.72 L976.42 256.95 L977.06 256.18 L977.70 255.41 L978.34 254.65 L978.98 253.88 L979.62 253.11 L980.25 252.34 L980.88 251.56 L981.51 250.78 L982.13 250.00 L982.75 249.21 L983.36 248.42 L983.98 247.64 L984.59 246.85 L985.21 246.06 L985.84 245.28 L986.46 244.50 L987.10 243.73 L987.74 242.96 L988.39 242.20 L989.04 241.45 L989.71 240.70 L990.38 239.96 L991.06 239.23 L991.75 238.50 L992.44 237.78 L993.14 237.07 L993.85 236.37 L994.57 235.68 L995.30 234.99 L996.04 234.32 L996.79 233.67 L997.55 233.02 L998.33 232.38 L999.10 231.76 L999.89 231.14 L1000.68 230.53 L1001.48 229.93 L1002.28 229.33 L1003.08 228.73 L1003.88 228.13 L1004.68 227.53 L1005.49 226.94 L1006.29 226.35 L1007.11 225.77 L1007.93 225.21 L1008.77 224.67 L1009.62 224.16 L1010.49 223.69 L1011.38 223.25 L1012.29 222.87 L1013.21 222.53 L1014.16 222.25 L1015.12 222.02 L1016.09 221.84 L1017.07 221.70 L1018.05 221.62 L1019.05 221.57 L1020.04 221.56 L1021.04 221.59 L1022.03 221.64 L1023.03 221.71 L1024.02 221.81 L1025.01 221.93 L1026.00 222.06 L1026.99 222.21 L1027.97 222.39 L1028.95 222.58 L1029.92 222.79 L1030.89 223.03 L1031.85 223.30 L1032.80 223.59 L1033.75 223.90 L1034.68 224.25 L1035.61 224.62 L1036.52 225.02 L1037.42 225.45 L1038.31 225.90 L1039.18 226.38 L1040.05 226.88 L1040.90 227.40 L1041.73 227.94 L1042.56 228.50 L1043.38 229.07 L1044.18 229.67 L1044.97 230.27 L1045.75 230.89 L1046.53 231.53 L1047.29 232.17 L1048.05 232.82 L1048.81 233.47 L1049.57 234.12 L1050.32 234.78 L1051.07 235.44 L1051.83 236.09 L1052.59 236.75 L1053.34 237.40 L1054.10 238.05 L1054.87 238.70 L1055.63 239.34 L1056.40 239.99 L1057.16 240.63 L1057.93 241.27 L1058.69 241.91 L1059.46 242.56 L1060.22 243.20 L1060.99 243.85 L1061.75 244.50 L1062.51 245.15 L1063.27 245.80 L1064.02 246.45 L1064.78 247.10 L1065.54 247.76 L1066.30 248.41 L1067.06 249.06 L1067.82 249.70 L1068.59 250.34 L1069.37 250.97 L1070.15 251.59 L1070.94 252.20 L1071.74 252.79 L1072.55 253.38 L1073.38 253.94 L1074.21 254.49 L1075.05 255.03 L1075.90 255.56 L1076.76 256.07 L1077.62 256.57 L1078.49 257.07 L1079.36 257.55 L1080.24 258.03 L1081.12 258.51 L1082.00 258.98 L1082.89 259.45 L1083.77 259.91 L1084.66 260.37 L1085.56 260.81 L1086.45 261.26 L1087.35 261.69 L1088.26 262.11 L1089.17 262.52 L1090.09 262.91 L1091.01 263.30 L1091.94 263.66 L1092.88 264.01 L1093.82 264.35 L1094.76 264.66 L1095.72 264.96 L1096.68 265.24 L1097.64 265.49 L1098.61 265.73 L1099.58 265.95 L1100.56 266.14 L1101.54 266.31 L1102.53 266.46 L1103.52 266.59 L1104.51 266.70 L1105.51 266.79 L1106.50 266.85 L1107.50 266.89 L1108.50 266.90 L1109.49 266.89 L1110.49 266.86 L1111.49 266.80 L1112.48 266.72 L1113.47 266.61 L1114.46 266.48 L1115.44 266.32 L1116.42 266.14 L1117.40 265.93 L1118.37 265.70 L1119.34 265.45 L1120.30 265.18 L1121.25 264.89 L1122.20 264.58 L1123.15 264.26 L1124.09 263.93 L1125.03 263.59 L1125.97 263.24 L1126.90 262.88 L1127.83 262.52 L1128.76 262.15 L1129.69 261.78 L1130.62 261.40 L1131.54 261.02 L1132.46 260.63 L1133.38 260.23 L1134.29 259.82 L1135.20 259.40 L1136.10 258.97 L1137.00 258.54 L1137.89 258.09 L1138.78 257.63 L1139.66 257.16 L1140.53 256.67 L1141.41 256.18 L1142.27 255.68 L1143.13 255.18 L1143.99 254.66 L1144.84 254.14 L1145.69 253.61 L1146.53 253.07 L1147.37 252.53 L1148.21 251.98 L1149.04 251.43 L1149.87 250.88 L1150.70 250.32 L1151.53 249.76 L1152.36 249.20 L1153.20 248.65 L1154.03 248.10 L1154.87 247.56 L1155.72 247.02 L1156.57 246.50 L1157.42 245.98 L1158.29 245.48 L1159.16 244.99 L1160.04 244.52 L1160.92 244.05 L1161.81 243.60 L1162.71 243.16 L1163.61 242.74 L1164.52 242.32 L1165.44 241.92 L1166.36 241.54 L1167.29 241.16 L1168.22 240.80 L1169.16 240.45 L1170.10 240.12 L1171.04 239.80 L1171.99 239.50 L1172.95 239.20 L1173.91 238.93 L1174.87 238.66 L1175.84 238.42 L1176.81 238.18 L1177.79 237.96 L1178.76 237.76 L1179.75 237.57 L1180.73 237.39 L1181.71 237.23 L1182.70 237.09 L1183.69 236.96 L1184.69 236.84 L1185.68 236.73 L1186.67 236.64 L1187.67 236.57 L1188.67 236.53 L1189.67 236.50" fill="none" stroke="#000000" stroke-width="4.7" stroke-dasharray="none"/>
<path d="M658.57 56.50 L659.32 57.17 L660.06 57.84 L660.80 58.51 L661.54 59.18 L662.28 59.86 L663.01 60.54 L663.74 61.23 L664.47 61.91 L665.19 62.60 L665.92 63.29 L666.64 63.98 L667.36 64.68 L668.07 65.37 L668.79 66.07 L669.50 66.77 L670.21 67.48 L670.91 68.19 L671.62 68.90 L672.31 69.61 L673.01 70.33 L673.70 71.06 L674.38 71.78 L675.06 72.52 L675.74 73.25 L676.40 74.00 L677.06 74.75 L677.71 75.51 L678.35 76.27 L678.98 77.04 L679.60 77.83 L680.21 78.62 L680.80 79.42 L681.38 80.23 L681.94 81.05 L682.49 81.88 L683.02 82.72 L683.54 83.57 L684.03 84.43 L684.51 85.31 L684.96 86.19 L685.40 87.08 L685.81 87.98 L686.21 88.90 L686.58 89.82 L686.93 90.75 L687.26 91.68 L687.58 92.63 L687.88 93.58 L688.16 94.53 L688.43 95.49 L688.68 96.46 L688.93 97.42 L689.18 98.39 L689.42 99.36 L689.66 100.33 L689.90 101.30 L690.15 102.26 L690.41 103.22 L690.68 104.18 L690.97 105.14 L691.27 106.09 L691.58 107.03 L691.92 107.97 L692.27 108.90 L692.63 109.83 L693.01 110.75 L693.40 111.67 L693.79 112.58 L694.19 113.50 L694.59 114.41 L694.99 115.32 L695.38 116.24 L695.76 117.16 L696.13 118.09 L696.49 119.02 L696.83 119.95 L697.15 120.89 L697.46 121.84 L697.74 122.79 L698.02 123.75 L698.27 124.71 L698.51 125.68 L698.74 126.65 L698.95 127.63 L699.15 128.60 L699.35 129.58 L699.53 130.57 L699.72 131.55 L699.89 132.53 L700.06 133.52 L700.23 134.50 L700.39 135.49 L700.55 136.48 L700.70 137.47 L700.85 138.45 L701.00 139.44 L701.15 140.43 L701.30 141.42 L701.44 142.41 L701.59 143.40 L701.73 144.39 L701.87 145.38 L702.01 146.37 L702.16 147.36 L702.30 148.35 L702.44 149.34 L702.58 150.33 L702.72 151.32 L702.86 152.31 L703.01 153.30 L703.15 154.29 L703.29 155.28 L703.44 156.27 L703.58 157.26 L703.72 158.25 L703.87 159.24 L704.01 160.23 L704.16 161.21 L704.30 162.20 L704.45 163.19 L704.59 164.18 L704.73 165.17 L704.87 166.16 L705.02 167.15 L705.16 168.14 L705.29 169.13 L705.43 170.12 L705.56 171.12 L705.69 172.11 L705.81 173.10 L705.93 174.09 L706.04 175.08 L706.15 176.08 L706.26 177.07 L706.36 178.07 L706.45 179.06 L706.54 180.06 L706.62 181.05 L706.70 182.05 L706.78 183.05 L706.85 184.04 L706.93 185.04 L707.00 186.04 L707.07 187.04 L707.15 188.03 L707.22 189.03 L707.30 190.03 L707.38 191.02 L707.46 192.02 L707.55 193.02 L707.63 194.01 L707.72 195.01 L707.82 196.00 L707.91 197.00 L708.01 197.99 L708.11 198.99 L708.21 199.98 L708.31 200.98 L708.41 201.97 L708.52 202.97 L708.62 203.96 L708.73 204.96 L708.83 205.95 L708.94 206.95 L709.04 207.94 L709.15 208.94 L709.26 209.93 L709.36 210.92 L709.47 211.92 L709.58 212.91 L709.68 213.91 L709.79 214.90 L709.90 215.89 L710.01 216.89 L710.12 217.88 L710.23 218.88 L710.34 219.87 L710.46 220.86 L710.57 221.86 L710.68 222.85 L710.79 223.84 L710.90 224.84 L711.02 225.83 L711.13 226.83 L711.24 227.82 L711.35 228.81 L711.46 229.81 L711.57 230.80 L711.68 231.79 L711.79 232.79 L711.90 233.78 L712.01 234.78 L712.12 235.77 L712.23 236.77 L712.34 237.76 L712.45 238.75 L712.55 239.75 L712.66 240.74 L712.77 241.74 L712.88 242.73 L712.99 243.72 L713.11 244.72 L713.22 245.71 L713.34 246.70 L713.46 247.70 L713.58 248.69 L713.71 249.68 L713.83 250.67 L713.96 251.66 L714.08 252.66 L714.21 253.65 L714.33 254.64 L714.45 255.63 L714.56 256.63 L714.67 257.62 L714.77 258.61 L714.87 259.61 L714.96 260.60 L715.05 261.60 L715.13 262.60 L715.21 263.59 L715.28 264.59 L715.36 265.59 L715.43 266.58 L715.50 267.58 L715.57 268.58 L715.64 269.58 L715.72 270.57 L715.80 271.57 L715.89 272.57 L715.97 273.56 L716.07 274.56 L716.16 275.55 L716.26 276.55 L716.36 277.54 L716.47 278.54 L716.58 279.53 L716.69 280.52 L716.81 281.52 L716.92 282.51 L717.03 283.50 L717.15 284.50 L717.26 285.49 L717.38 286.48 L717.49 287.48 L717.60 288.47 L717.71 289.47 L717.82 290.46 L717.93 291.45 L718.04 292.45 L718.15 293.44 L718.27 294.43 L718.39 295.43 L718.51 296.42 L718.63 297.41 L718.76 298.40 L718.89 299.39 L719.02 300.39 L719.16 301.38 L719.30 302.37 L719.45 303.35 L719.59 304.34 L719.74 305.33 L719.88 306.32 L720.03 307.31 L720.18 308.30 L720.33 309.29 L720.48 310.28 L720.63 311.27 L720.78 312.26 L720.93 313.24 L721.09 314.23 L721.24 315.22 L721.40 316.21 L721.56 317.19 L721.72 318.18 L721.88 319.17 L722.04 320.16 L722.20 321.14 L722.36 322.13 L722.53 323.12 L722.69 324.10 L722.86 325.09 L723.02 326.07 L723.19 327.06 L723.36 328.05 L723.52 329.03 L723.69 330.02 L723.86 331.00 L724.03 331.99 L724.19 332.98 L724.36 333.96 L724.52 334.95 L724.69 335.93 L724.85 336.92 L725.02 337.91 L725.18 338.89 L725.35 339.88 L725.52 340.87 L725.69 341.85 L725.87 342.83 L726.05 343.82 L726.23 344.80 L726.42 345.78 L726.61 346.77 L726.80 347.75 L727.00 348.73 L727.20 349.71 L727.40 350.69 L727.60 351.67 L727.81 352.64 L728.02 353.62 L728.23 354.60 L728.45 355.57 L728.68 356.54 L728.93 357.51 L729.19 358.47 L729.48 359.42 L729.80 360.36 L730.16 361.29 L730.56 362.19 L731.01 363.07 L731.50 363.92 L732.04 364.75 L732.62 365.54 L733.25 366.31 L733.91 367.05 L734.60 367.76 L735.31 368.46 L736.03 369.15 L736.76 369.83 L737.49 370.51 L738.22 371.20 L738.94 371.88 L739.66 372.57 L740.38 373.26 L741.10 373.93 L741.82 374.56 L742.55 375.13 L743.28 375.61 L744.02 375.96 L745.11 376.15 L746.17 375.91 L747.15 375.26 L747.78 374.66 L748.37 373.95 L748.95 373.19 L749.51 372.39 L750.07 371.57 L750.62 370.74 L751.17 369.90 L751.71 369.07 L752.25 368.22 L752.79 367.38 L753.31 366.53 L753.82 365.67 L754.32 364.80 L754.81 363.93 L755.28 363.05 L755.75 362.17 L756.20 361.28 L756.63 360.38 L757.06 359.47 L757.47 358.56 L757.88 357.65 L758.27 356.73 L758.65 355.81 L759.03 354.88 L759.40 353.95 L759.75 353.02 L760.10 352.08 L760.44 351.14 L760.77 350.20 L761.10 349.25 L761.41 348.30 L761.72 347.35 L762.02 346.40 L762.32 345.45 L762.61 344.49 L762.90 343.53 L763.19 342.57 L763.47 341.61 L763.76 340.66 L764.04 339.70 L764.32 338.74 L764.60 337.78 L764.88 336.82 L765.16 335.86 L765.44 334.90 L765.72 333.94 L765.99 332.97 L766.25 332.01 L766.52 331.05 L766.77 330.08 L767.02 329.11 L767.27 328.14 L767.51 327.17 L767.74 326.20 L767.98 325.23 L768.20 324.25 L768.42 323.28 L768.64 322.30 L768.85 321.32 L769.06 320.35 L769.27 319.37 L769.47 318.39 L769.67 317.41 L769.87 316.43 L770.06 315.45 L770.24 314.46 L770.43 313.48 L770.61 312.50 L770.79 311.51 L770.97 310.53 L771.15 309.55 L771.33 308.56 L771.51 307.58 L771.69 306.60 L771.88 305.61 L772.07 304.63 L772.27 303.65 L772.46 302.67 L772.66 301.69 L772.86 300.71 L773.07 299.73 L773.28 298.76 L773.48 297.78 L773.69 296.80 L773.90 295.82 L774.11 294.84 L774.32 293.87 L774.52 292.89 L774.72 291.91 L774.91 290.93 L775.09 289.94 L775.27 288.96 L775.43 287.97 L775.59 286.99 L775.73 286.00 L775.87 285.01 L776.01 284.02 L776.14 283.03 L776.28 282.04 L776.42 281.05 L776.57 280.06 L776.72 279.07 L776.88 278.08 L777.05 277.10 L777.22 276.11 L777.39 275.13 L777.57 274.14 L777.75 273.16 L777.93 272.17 L778.11 271.19 L778.28 270.21 L778.46 269.22 L778.64 268.24 L778.81 267.25 L778.98 266.27 L779.15 265.28 L779.32 264.30 L779.48 263.31 L779.65 262.32 L779.82 261.34 L779.98 260.35 L780.15 259.37 L780.33 258.38 L780.50 257.40 L780.68 256.41 L780.87 255.43 L781.05 254.45 L781.24 253.47 L781.42 252.48 L781.61 251.50 L781.80 250.52 L781.99 249.54 L782.18 248.55 L782.36 247.57 L782.55 246.59 L782.74 245.61 L782.92 244.62 L783.09 243.64 L783.26 242.65 L783.43 241.67 L783.59 240.68 L783.74 239.69 L783.89 238.71 L784.04 237.72 L784.18 236.73 L784.33 235.74 L784.48 234.75 L784.64 233.76 L784.81 232.78 L784.98 231.79 L785.16 230.81 L785.34 229.83 L785.53 228.84 L785.72 227.86 L785.92 226.88 L786.12 225.90 L786.32 224.92 L786.53 223.94 L786.73 222.97 L786.94 221.99 L787.14 221.01 L787.35 220.03 L787.56 219.05 L787.76 218.07 L787.97 217.09 L788.17 216.11 L788.36 215.13 L788.56 214.15 L788.75 213.17 L788.95 212.19 L789.14 211.21 L789.33 210.23 L789.53 209.25 L789.73 208.27 L789.94 207.29 L790.15 206.31 L790.37 205.34 L790.58 204.36 L790.81 203.39 L791.04 202.41 L791.27 201.44 L791.50 200.47 L791.73 199.50 L791.97 198.52 L792.21 197.55 L792.46 196.58 L792.70 195.61 L792.94 194.64 L793.18 193.67 L793.42 192.70 L793.66 191.73 L793.89 190.76 L794.11 189.78 L794.34 188.81 L794.56 187.83 L794.78 186.86 L795.00 185.89 L795.23 184.91 L795.47 183.94 L795.71 182.97 L795.97 182.01 L796.23 181.04 L796.51 180.08 L796.80 179.12 L797.09 178.17 L797.40 177.22 L797.71 176.27 L798.04 175.32 L798.38 174.39 L798.73 173.45 L799.11 172.53 L799.50 171.61 L799.92 170.71 L800.38 169.83 L800.87 168.98 L801.41 168.16 L801.99 167.37 L802.62 166.62 L803.30 165.90 L804.01 165.21 L804.75 164.55 L805.50 163.90 L806.26 163.26 L807.02 162.62 L807.77 161.97 L808.52 161.32 L809.26 160.68 L810.02 160.07 L810.79 159.52 L811.58 159.06 L812.39 158.71 L813.23 158.51 L814.07 158.47 L814.92 158.59 L815.76 158.85 L816.58 159.24 L817.38 159.74 L818.16 160.31 L818.91 160.94 L819.63 161.61 L820.33 162.31 L821.00 163.04 L821.64 163.80 L822.26 164.58 L822.85 165.38 L823.41 166.20 L823.94 167.04 L824.45 167.90 L824.94 168.77 L825.40 169.65 L825.85 170.54 L826.28 171.44 L826.71 172.35 L827.12 173.26 L827.53 174.17 L827.93 175.09 L828.32 176.01 L828.71 176.93 L829.10 177.85 L829.49 178.77 L829.87 179.69 L830.26 180.62 L830.64 181.54 L831.02 182.46 L831.41 183.39 L831.79 184.31 L832.17 185.24 L832.55 186.16 L832.93 187.09 L833.30 188.01 L833.67 188.94 L834.02 189.88 L834.37 190.82 L834.71 191.76 L835.03 192.70 L835.35 193.65 L835.65 194.60 L835.95 195.55 L836.25 196.51 L836.53 197.47 L836.82 198.43 L837.10 199.39 L837.38 200.35 L837.65 201.31 L837.92 202.27 L838.19 203.23 L838.46 204.20 L838.72 205.16 L838.99 206.13 L839.25 207.09 L839.51 208.06 L839.77 209.02 L840.03 209.99 L840.29 210.96 L840.54 211.92 L840.80 212.89 L841.06 213.85 L841.33 214.82 L841.60 215.78 L841.87 216.74 L842.14 217.70 L842.42 218.66 L842.70 219.63 L842.97 220.59 L843.25 221.55 L843.52 222.51 L843.79 223.47 L844.05 224.44 L844.31 225.40 L844.56 226.37 L844.81 227.34 L845.06 228.31 L845.29 229.28 L845.53 230.25 L845.76 231.23 L845.99 232.20 L846.21 233.17 L846.44 234.15 L846.66 235.12 L846.89 236.10 L847.11 237.07 L847.34 238.05 L847.57 239.02 L847.80 239.99 L848.03 240.96 L848.27 241.94 L848.51 242.91 L848.74 243.88 L848.98 244.85 L849.22 245.82 L849.46 246.79 L849.69 247.76 L849.93 248.73 L850.17 249.71 L850.40 250.68 L850.64 251.65 L850.87 252.62 L851.11 253.59 L851.34 254.57 L851.58 255.54 L851.82 256.51 L852.05 257.48 L852.30 258.45 L852.54 259.42 L852.79 260.39 L853.04 261.36 L853.30 262.32 L853.56 263.29 L853.83 264.25 L854.10 265.22 L854.37 266.18 L854.65 267.14 L854.93 268.10 L855.21 269.06 L855.50 270.01 L855.79 270.97 L856.08 271.93 L856.37 272.88 L856.66 273.84 L856.96 274.80 L857.25 275.75 L857.55 276.71 L857.85 277.66 L858.15 278.61 L858.45 279.57 L858.76 280.52 L859.06 281.47 L859.37 282.42 L859.68 283.37 L860.00 284.32 L860.31 285.27 L860.63 286.22 L860.95 287.17 L861.28 288.11 L861.61 289.06 L861.94 290.00 L862.28 290.94 L862.62 291.88 L862.97 292.82 L863.33 293.75 L863.69 294.68 L864.06 295.61 L864.44 296.53 L864.83 297.46 L865.23 298.37 L865.63 299.28 L866.05 300.19 L866.49 301.09 L866.94 301.98 L867.40 302.86 L867.89 303.73 L868.40 304.59 L868.93 305.43 L869.49 306.26 L870.07 307.07 L870.68 307.85 L871.31 308.62 L871.97 309.37 L872.65 310.09 L873.35 310.80 L874.07 311.48 L874.82 312.14 L875.59 312.76 L876.38 313.34 L877.20 313.86 L878.05 314.32 L878.92 314.68 L879.82 314.94 L880.74 315.10 L881.66 315.13 L882.58 315.04 L883.49 314.83 L884.39 314.52 L885.26 314.12 L886.10 313.64 L886.91 313.10 L887.70 312.50 L888.46 311.87 L889.20 311.21 L889.92 310.52 L890.61 309.81 L891.29 309.08 L891.94 308.32 L892.57 307.55 L893.19 306.77 L893.77 305.96 L894.34 305.14 L894.89 304.31 L895.42 303.46 L895.93 302.61 L896.43 301.74 L896.92 300.87 L897.39 299.99 L897.86 299.10 L898.31 298.21 L898.76 297.32 L899.20 296.42 L899.64 295.52 L900.07 294.62 L900.49 293.72 L900.91 292.81 L901.33 291.90 L901.74 290.99 L902.14 290.07 L902.55 289.16 L902.94 288.24 L903.33 287.32 L903.72 286.40 L904.10 285.47 L904.47 284.54 L904.84 283.62 L905.21 282.69 L905.57 281.75 L905.93 280.82 L906.29 279.89 L906.64 278.95 L906.99 278.01 L907.34 277.08 L907.68 276.14 L908.02 275.20 L908.35 274.25 L908.68 273.31 L909.00 272.36 L909.31 271.41 L909.61 270.46 L909.91 269.50 L910.20 268.55 L910.50 267.59 L910.79 266.64 L911.09 265.68 L911.39 264.73 L911.71 263.79 L912.04 262.84 L912.39 261.91 L912.75 260.97 L913.12 260.05 L913.51 259.12 L913.90 258.20 L914.29 257.29 L914.69 256.37 L915.09 255.45 L915.48 254.53 L915.87 253.61 L916.26 252.69 L916.64 251.77 L917.01 250.84 L917.38 249.91 L917.75 248.98 L918.12 248.05 L918.49 247.12 L918.86 246.19 L919.23 245.27 L919.61 244.34 L919.99 243.41 L920.37 242.49 L920.75 241.57 L921.13 240.64 L921.49 239.71 L921.85 238.78 L922.19 237.84 L922.50 236.89 L922.80 235.94 L923.07 234.98 L923.33 234.02 L923.56 233.05 L923.79 232.07 L924.01 231.10 L924.23 230.13 L924.47 229.16 L924.73 228.20 L925.01 227.24 L925.33 226.30 L925.67 225.37 L926.05 224.45 L926.46 223.54 L926.89 222.64 L927.35 221.76 L927.83 220.89 L928.34 220.02 L928.85 219.17 L929.38 218.32 L929.93 217.48 L930.48 216.65 L931.04 215.82 L931.61 215.00 L932.19 214.19 L932.78 213.38 L933.38 212.59 L934.00 211.80 L934.62 211.01 L935.25 210.24 L935.90 209.48 L936.56 208.74 L937.24 208.00 L937.93 207.28 L938.64 206.58 L939.36 205.90 L940.11 205.24 L940.87 204.61 L941.66 204.00 L942.47 203.44 L943.31 202.92 L944.17 202.45 L945.06 202.04 L945.97 201.70 L946.90 201.44 L947.85 201.25 L948.81 201.15 L949.77 201.14 L950.74 201.21 L951.70 201.36 L952.64 201.59 L953.57 201.88 L954.49 202.24 L955.39 202.65 L956.27 203.10 L957.13 203.60 L957.97 204.12 L958.80 204.68 L959.60 205.26 L960.40 205.86 L961.17 206.49 L961.93 207.14 L962.67 207.81 L963.38 208.50 L964.08 209.21 L964.76 209.94 L965.41 210.69 L966.05 211.46 L966.66 212.25 L967.25 213.05 L967.83 213.86 L968.38 214.69 L968.92 215.53 L969.43 216.39 L969.93 217.25 L970.41 218.13 L970.88 219.01 L971.33 219.90 L971.77 220.80 L972.19 221.70 L972.61 222.61 L973.01 223.53 L973.42 224.44 L973.81 225.36 L974.21 226.28 L974.60 227.20 L975.00 228.12 L975.39 229.03 L975.80 229.95 L976.20 230.86 L976.61 231.77 L977.03 232.68 L977.45 233.59 L977.88 234.49 L978.31 235.40 L978.75 236.29 L979.19 237.19 L979.64 238.08 L980.09 238.98 L980.55 239.87 L981.01 240.75 L981.48 241.64 L981.95 242.52 L982.43 243.39 L982.92 244.27 L983.41 245.14 L983.90 246.01 L984.39 246.88 L984.89 247.75 L985.39 248.61 L985.89 249.48 L986.39 250.35 L986.89 251.21 L987.38 252.08 L987.87 252.95 L988.37 253.82 L988.86 254.69 L989.35 255.56 L989.84 256.43 L990.33 257.30 L990.83 258.17 L991.33 259.04 L991.83 259.91 L992.33 260.77 L992.84 261.63 L993.35 262.49 L993.86 263.35 L994.38 264.21 L994.90 265.06 L995.43 265.91 L995.97 266.75 L996.50 267.59 L997.05 268.43 L997.60 269.27 L998.16 270.09 L998.73 270.92 L999.30 271.73 L999.89 272.54 L1000.49 273.34 L1001.10 274.13 L1001.72 274.92 L1002.35 275.69 L1003.01 276.44 L1003.67 277.18 L1004.36 277.91 L1005.06 278.62 L1005.78 279.30 L1006.52 279.96 L1007.29 280.60 L1008.08 281.20 L1008.89 281.76 L1009.73 282.29 L1010.59 282.77 L1011.47 283.21 L1012.38 283.59 L1013.31 283.91 L1014.25 284.18 L1015.21 284.39 L1016.18 284.53 L1017.16 284.61 L1018.14 284.63 L1019.12 284.59 L1020.10 284.49 L1021.07 284.33 L1022.03 284.11 L1022.98 283.84 L1023.91 283.51 L1024.81 283.12 L1025.70 282.69 L1026.56 282.21 L1027.39 281.68 L1028.19 281.10 L1028.97 280.49 L1029.71 279.84 L1030.43 279.15 L1031.12 278.44 L1031.80 277.71 L1032.45 276.96 L1033.10 276.19 L1033.73 275.42 L1034.36 274.64 L1034.98 273.86 L1035.60 273.08 L1036.22 272.29 L1036.84 271.50 L1037.45 270.72 L1038.07 269.93 L1038.68 269.13 L1039.28 268.34 L1039.89 267.54 L1040.49 266.74 L1041.09 265.94 L1041.68 265.14 L1042.27 264.33 L1042.86 263.52 L1043.44 262.71 L1044.02 261.89 L1044.60 261.08 L1045.18 260.26 L1045.76 259.45 L1046.33 258.63 L1046.91 257.81 L1047.48 256.99 L1048.06 256.17 L1048.63 255.35 L1049.20 254.54 L1049.78 253.72 L1050.36 252.90 L1050.94 252.09 L1051.52 251.27 L1052.11 250.46 L1052.70 249.66 L1053.29 248.85 L1053.89 248.05 L1054.49 247.25 L1055.10 246.46 L1055.72 245.67 L1056.34 244.89 L1056.96 244.11 L1057.59 243.33 L1058.23 242.56 L1058.87 241.80 L1059.52 241.03 L1060.16 240.27 L1060.81 239.51 L1061.47 238.75 L1062.12 238.00 L1062.78 237.25 L1063.45 236.50 L1064.11 235.75 L1064.78 235.01 L1065.46 234.28 L1066.15 233.55 L1066.84 232.83 L1067.55 232.13 L1068.26 231.43 L1068.99 230.75 L1069.74 230.09 L1070.50 229.44 L1071.28 228.82 L1072.07 228.22 L1072.89 227.65 L1073.72 227.10 L1074.57 226.58 L1075.43 226.10 L1076.32 225.64 L1077.22 225.22 L1078.13 224.84 L1079.06 224.50 L1080.01 224.20 L1080.96 223.94 L1081.93 223.73 L1082.90 223.57 L1083.89 223.45 L1084.87 223.39 L1085.86 223.37 L1086.85 223.41 L1087.83 223.50 L1088.81 223.63 L1089.78 223.82 L1090.74 224.06 L1091.68 224.35 L1092.61 224.69 L1093.52 225.08 L1094.41 225.51 L1095.28 225.98 L1096.13 226.49 L1096.96 227.04 L1097.77 227.61 L1098.56 228.22 L1099.34 228.84 L1100.10 229.49 L1100.85 230.15 L1101.59 230.81 L1102.33 231.49 L1103.07 232.17 L1103.80 232.84 L1104.53 233.52 L1105.26 234.21 L1106.00 234.89 L1106.73 235.57 L1107.46 236.25 L1108.19 236.93 L1108.92 237.61 L1109.65 238.30 L1110.37 238.99 L1111.10 239.68 L1111.81 240.38 L1112.53 241.08 L1113.24 241.78 L1113.96 242.48 L1114.67 243.18 L1115.38 243.89 L1116.09 244.59 L1116.80 245.29 L1117.51 246.00 L1118.22 246.70 L1118.94 247.39 L1119.66 248.09 L1120.38 248.78 L1121.11 249.46 L1121.84 250.15 L1122.57 250.83 L1123.31 251.50 L1124.05 252.18 L1124.79 252.85 L1125.53 253.52 L1126.28 254.18 L1127.03 254.85 L1127.78 255.51 L1128.53 256.16 L1129.29 256.82 L1130.05 257.46 L1130.82 258.11 L1131.59 258.74 L1132.37 259.36 L1133.16 259.97 L1133.96 260.57 L1134.77 261.15 L1135.60 261.71 L1136.44 262.24 L1137.29 262.76 L1138.16 263.26 L1139.04 263.73 L1139.93 264.17 L1140.83 264.59 L1141.75 264.98 L1142.67 265.35 L1143.61 265.69 L1144.55 266.01 L1145.51 266.29 L1146.47 266.55 L1147.44 266.78 L1148.41 266.97 L1149.40 267.13 L1150.38 267.26 L1151.37 267.35 L1152.36 267.40 L1153.35 267.41 L1154.35 267.38 L1155.34 267.31 L1156.32 267.21 L1157.31 267.06 L1158.28 266.87 L1159.25 266.65 L1160.21 266.40 L1161.17 266.12 L1162.11 265.80 L1163.05 265.46 L1163.98 265.10 L1164.90 264.71 L1165.81 264.31 L1166.71 263.88 L1167.61 263.44 L1168.49 262.98 L1169.37 262.50 L1170.24 262.01 L1171.10 261.50 L1171.96 260.98 L1172.80 260.46 L1173.64 259.91 L1174.48 259.36 L1175.31 258.81 L1176.13 258.24 L1176.95 257.67 L1177.77 257.09 L1178.58 256.51 L1179.40 255.93 L1180.21 255.35 L1181.02 254.77 L1181.84 254.18 L1182.65 253.60 L1183.46 253.02 L1184.28 252.44 L1185.09 251.86 L1185.91 251.28 L1186.73 250.71 L1187.54 250.13 L1188.36 249.56 L1189.18 248.99 L1190.01 248.42" fill="none" stroke="#cc2228" stroke-width="4.7" stroke-dasharray="3.6 3.7"/>
<path d="M658.45 20.17 L659.15 20.89 L659.84 21.62 L660.53 22.34 L661.21 23.07 L661.89 23.80 L662.57 24.53 L663.25 25.27 L663.92 26.01 L664.59 26.75 L665.26 27.50 L665.92 28.25 L666.57 29.00 L667.22 29.76 L667.86 30.53 L668.49 31.30 L669.12 32.08 L669.74 32.86 L670.34 33.66 L670.93 34.46 L671.52 35.27 L672.09 36.09 L672.64 36.91 L673.19 37.75 L673.72 38.59 L674.23 39.44 L674.74 40.30 L675.23 41.17 L675.71 42.05 L676.17 42.93 L676.63 43.82 L677.07 44.71 L677.50 45.61 L677.93 46.52 L678.34 47.43 L678.75 48.34 L679.14 49.25 L679.53 50.17 L679.91 51.10 L680.29 52.03 L680.65 52.96 L681.01 53.89 L681.35 54.83 L681.69 55.77 L682.02 56.71 L682.35 57.65 L682.66 58.60 L682.96 59.55 L683.26 60.51 L683.55 61.46 L683.83 62.42 L684.11 63.38 L684.38 64.35 L684.64 65.31 L684.90 66.28 L685.15 67.24 L685.40 68.21 L685.65 69.18 L685.89 70.15 L686.13 71.12 L686.37 72.09 L686.61 73.06 L686.85 74.03 L687.09 75.00 L687.32 75.98 L687.55 76.95 L687.79 77.92 L688.02 78.89 L688.24 79.87 L688.46 80.84 L688.68 81.82 L688.89 82.79 L689.10 83.77 L689.29 84.75 L689.48 85.73 L689.66 86.71 L689.83 87.70 L689.98 88.68 L690.12 89.67 L690.25 90.66 L690.37 91.65 L690.48 92.65 L690.57 93.64 L690.66 94.63 L690.74 95.63 L690.81 96.63 L690.88 97.62 L690.95 98.62 L691.02 99.62 L691.08 100.61 L691.15 101.61 L691.22 102.61 L691.29 103.61 L691.37 104.60 L691.44 105.60 L691.53 106.60 L691.61 107.59 L691.70 108.59 L691.79 109.58 L691.89 110.58 L691.99 111.57 L692.09 112.57 L692.20 113.56 L692.31 114.56 L692.42 115.55 L692.54 116.54 L692.67 117.53 L692.79 118.53 L692.93 119.52 L693.06 120.51 L693.19 121.50 L693.33 122.49 L693.46 123.48 L693.60 124.47 L693.73 125.46 L693.86 126.45 L693.98 127.44 L694.10 128.44 L694.22 129.43 L694.33 130.42 L694.44 131.42 L694.54 132.41 L694.63 133.41 L694.73 134.40 L694.82 135.40 L694.90 136.39 L694.99 137.39 L695.07 138.39 L695.16 139.38 L695.24 140.38 L695.32 141.38 L695.40 142.37 L695.48 143.37 L695.57 144.37 L695.65 145.36 L695.74 146.36 L695.82 147.36 L695.91 148.35 L695.99 149.35 L696.08 150.34 L696.17 151.34 L696.26 152.34 L696.35 153.33 L696.44 154.33 L696.53 155.32 L696.62 156.32 L696.71 157.32 L696.80 158.31 L696.90 159.31 L696.99 160.30 L697.08 161.30 L697.17 162.29 L697.25 163.29 L697.34 164.29 L697.43 165.28 L697.51 166.28 L697.60 167.28 L697.68 168.27 L697.76 169.27 L697.84 170.27 L697.91 171.26 L697.99 172.26 L698.06 173.26 L698.14 174.26 L698.21 175.25 L698.28 176.25 L698.35 177.25 L698.42 178.24 L698.50 179.24 L698.57 180.24 L698.64 181.24 L698.72 182.23 L698.79 183.23 L698.87 184.23 L698.94 185.22 L699.02 186.22 L699.09 187.22 L699.17 188.22 L699.24 189.21 L699.31 190.21 L699.37 191.21 L699.44 192.21 L699.50 193.20 L699.56 194.20 L699.61 195.20 L699.66 196.20 L699.71 197.20 L699.76 198.20 L699.81 199.20 L699.86 200.19 L699.91 201.19 L699.95 202.19 L700.00 203.19 L700.05 204.19 L700.10 205.19 L700.15 206.19 L700.20 207.19 L700.24 208.19 L700.29 209.18 L700.34 210.18 L700.39 211.18 L700.43 212.18 L700.48 213.18 L700.52 214.18 L700.57 215.18 L700.62 216.18 L700.67 217.17 L700.72 218.17 L700.77 219.17 L700.82 220.17 L700.88 221.17 L700.94 222.17 L701.01 223.16 L701.07 224.16 L701.14 225.16 L701.21 226.16 L701.29 227.15 L701.36 228.15 L701.44 229.15 L701.51 230.15 L701.59 231.14 L701.67 232.14 L701.74 233.14 L701.82 234.13 L701.89 235.13 L701.97 236.13 L702.04 237.13 L702.11 238.12 L702.18 239.12 L702.25 240.12 L702.31 241.12 L702.37 242.11 L702.43 243.11 L702.48 244.11 L702.54 245.11 L702.59 246.11 L702.64 247.11 L702.69 248.11 L702.74 249.10 L702.80 250.10 L702.85 251.10 L702.90 252.10 L702.96 253.10 L703.02 254.10 L703.07 255.09 L703.13 256.09 L703.19 257.09 L703.26 258.09 L703.32 259.09 L703.38 260.09 L703.44 261.08 L703.51 262.08 L703.58 263.08 L703.64 264.08 L703.71 265.07 L703.78 266.07 L703.86 267.07 L703.93 268.07 L704.01 269.06 L704.08 270.06 L704.16 271.06 L704.24 272.05 L704.32 273.05 L704.40 274.05 L704.48 275.04 L704.55 276.04 L704.63 277.04 L704.70 278.04 L704.78 279.03 L704.85 280.03 L704.92 281.03 L704.98 282.03 L705.05 283.02 L705.12 284.02 L705.19 285.02 L705.26 286.02 L705.33 287.01 L705.40 288.01 L705.47 289.01 L705.55 290.01 L705.62 291.00 L705.69 292.00 L705.76 293.00 L705.83 294.00 L705.90 294.99 L705.97 295.99 L706.04 296.99 L706.10 297.99 L706.17 298.98 L706.24 299.98 L706.31 300.98 L706.38 301.98 L706.46 302.97 L706.53 303.97 L706.60 304.97 L706.68 305.96 L706.76 306.96 L706.83 307.96 L706.91 308.96 L706.98 309.95 L707.06 310.95 L707.13 311.95 L707.20 312.95 L707.28 313.94 L707.36 314.94 L707.43 315.94 L707.51 316.93 L707.60 317.93 L707.69 318.93 L707.78 319.92 L707.87 320.92 L707.97 321.91 L708.06 322.91 L708.16 323.90 L708.27 324.90 L708.37 325.89 L708.47 326.89 L708.57 327.88 L708.67 328.88 L708.77 329.87 L708.86 330.87 L708.96 331.86 L709.05 332.86 L709.14 333.85 L709.23 334.85 L709.32 335.85 L709.41 336.84 L709.50 337.84 L709.60 338.83 L709.69 339.83 L709.78 340.82 L709.88 341.82 L709.98 342.81 L710.08 343.81 L710.19 344.80 L710.30 345.80 L710.42 346.79 L710.54 347.78 L710.67 348.77 L710.81 349.76 L710.94 350.75 L711.08 351.74 L711.23 352.73 L711.37 353.72 L711.52 354.71 L711.67 355.70 L711.82 356.69 L711.97 357.68 L712.11 358.67 L712.26 359.66 L712.41 360.65 L712.55 361.63 L712.70 362.62 L712.85 363.61 L712.99 364.60 L713.14 365.59 L713.28 366.58 L713.43 367.57 L713.58 368.56 L713.72 369.55 L713.87 370.54 L714.01 371.53 L714.16 372.52 L714.30 373.51 L714.45 374.50 L714.60 375.49 L714.74 376.47 L714.89 377.46 L715.03 378.45 L715.18 379.44 L715.32 380.43 L715.46 381.42 L715.60 382.41 L715.74 383.40 L715.87 384.39 L716.00 385.39 L716.14 386.38 L716.27 387.37 L716.41 388.36 L716.55 389.35 L716.70 390.34 L716.85 391.32 L717.02 392.31 L717.21 393.29 L717.41 394.26 L717.64 395.23 L717.89 396.20 L718.18 397.15 L718.50 398.09 L718.86 399.02 L719.25 399.93 L719.68 400.83 L720.13 401.71 L720.61 402.58 L721.12 403.44 L721.64 404.30 L722.17 405.14 L722.70 405.99 L723.24 406.83 L723.79 407.66 L724.34 408.49 L724.89 409.30 L725.46 410.08 L726.05 410.80 L726.65 411.44 L727.58 412.13 L728.52 412.41 L729.43 412.19 L730.28 411.53 L730.80 410.89 L731.30 410.14 L731.77 409.32 L732.23 408.46 L732.68 407.58 L733.13 406.69 L733.58 405.80 L734.03 404.91 L734.48 404.02 L734.93 403.12 L735.38 402.23 L735.82 401.33 L736.25 400.43 L736.67 399.52 L737.07 398.61 L737.46 397.69 L737.83 396.76 L738.19 395.83 L738.52 394.89 L738.85 393.94 L739.15 392.99 L739.45 392.04 L739.73 391.08 L739.99 390.12 L740.25 389.15 L740.50 388.18 L740.74 387.21 L740.98 386.24 L741.21 385.27 L741.43 384.29 L741.65 383.32 L741.87 382.34 L742.08 381.36 L742.28 380.39 L742.49 379.41 L742.69 378.43 L742.89 377.45 L743.08 376.47 L743.28 375.49 L743.47 374.50 L743.67 373.52 L743.86 372.54 L744.06 371.56 L744.26 370.58 L744.46 369.60 L744.66 368.62 L744.85 367.64 L745.05 366.66 L745.25 365.68 L745.44 364.70 L745.63 363.72 L745.82 362.74 L746.01 361.75 L746.20 360.77 L746.38 359.79 L746.58 358.81 L746.77 357.83 L746.97 356.85 L747.17 355.87 L747.37 354.89 L747.57 353.91 L747.78 352.93 L747.98 351.95 L748.17 350.97 L748.37 349.99 L748.55 349.01 L748.73 348.02 L748.89 347.04 L749.05 346.05 L749.20 345.06 L749.35 344.07 L749.49 343.08 L749.62 342.09 L749.76 341.10 L749.89 340.11 L750.02 339.12 L750.16 338.13 L750.30 337.14 L750.44 336.15 L750.58 335.16 L750.73 334.17 L750.88 333.18 L751.02 332.19 L751.17 331.20 L751.32 330.21 L751.47 329.22 L751.61 328.24 L751.75 327.25 L751.89 326.26 L752.03 325.26 L752.16 324.27 L752.29 323.28 L752.42 322.29 L752.54 321.30 L752.65 320.30 L752.76 319.31 L752.86 318.32 L752.95 317.32 L753.03 316.32 L753.11 315.33 L753.19 314.33 L753.26 313.33 L753.33 312.34 L753.41 311.34 L753.50 310.34 L753.59 309.35 L753.68 308.35 L753.78 307.36 L753.89 306.36 L754.00 305.37 L754.11 304.38 L754.22 303.38 L754.33 302.39 L754.44 301.39 L754.55 300.40 L754.66 299.41 L754.76 298.41 L754.86 297.42 L754.96 296.42 L755.06 295.43 L755.16 294.43 L755.25 293.44 L755.34 292.44 L755.43 291.44 L755.52 290.45 L755.61 289.45 L755.70 288.46 L755.80 287.46 L755.90 286.47 L756.01 285.47 L756.12 284.48 L756.23 283.49 L756.35 282.49 L756.48 281.50 L756.60 280.51 L756.73 279.52 L756.85 278.52 L756.98 277.53 L757.10 276.54 L757.22 275.55 L757.34 274.55 L757.46 273.56 L757.58 272.57 L757.69 271.57 L757.80 270.58 L757.91 269.59 L758.01 268.59 L758.10 267.60 L758.19 266.60 L758.27 265.60 L758.36 264.61 L758.44 263.61 L758.52 262.61 L758.60 261.62 L758.68 260.62 L758.78 259.63 L758.88 258.63 L758.98 257.64 L759.09 256.64 L759.21 255.65 L759.33 254.66 L759.45 253.66 L759.57 252.67 L759.69 251.68 L759.81 250.69 L759.93 249.69 L760.05 248.70 L760.17 247.71 L760.28 246.71 L760.39 245.72 L760.50 244.73 L760.59 243.73 L760.69 242.74 L760.77 241.74 L760.84 240.74 L760.91 239.75 L760.97 238.75 L761.03 237.75 L761.09 236.75 L761.16 235.75 L761.23 234.76 L761.31 233.76 L761.40 232.77 L761.50 231.77 L761.60 230.78 L761.71 229.78 L761.83 228.79 L761.95 227.80 L762.07 226.81 L762.20 225.81 L762.32 224.82 L762.45 223.83 L762.57 222.84 L762.70 221.84 L762.82 220.85 L762.94 219.86 L763.05 218.87 L763.16 217.87 L763.27 216.88 L763.37 215.88 L763.46 214.89 L763.55 213.89 L763.63 212.90 L763.72 211.90 L763.80 210.90 L763.89 209.91 L763.99 208.91 L764.09 207.92 L764.20 206.92 L764.32 205.93 L764.44 204.94 L764.57 203.95 L764.70 202.96 L764.83 201.96 L764.97 200.97 L765.11 199.98 L765.25 198.99 L765.39 198.00 L765.53 197.01 L765.67 196.02 L765.81 195.03 L765.95 194.04 L766.08 193.05 L766.22 192.06 L766.35 191.07 L766.48 190.08 L766.61 189.09 L766.74 188.09 L766.86 187.10 L766.99 186.11 L767.11 185.12 L767.24 184.13 L767.38 183.14 L767.52 182.15 L767.66 181.16 L767.80 180.17 L767.95 179.18 L768.10 178.19 L768.26 177.20 L768.41 176.21 L768.57 175.23 L768.73 174.24 L768.90 173.25 L769.06 172.27 L769.23 171.28 L769.39 170.29 L769.56 169.31 L769.73 168.32 L769.90 167.34 L770.06 166.35 L770.23 165.37 L770.40 164.38 L770.57 163.39 L770.73 162.41 L770.90 161.42 L771.07 160.44 L771.25 159.45 L771.43 158.47 L771.62 157.49 L771.82 156.51 L772.03 155.53 L772.24 154.56 L772.47 153.58 L772.71 152.61 L772.96 151.64 L773.22 150.68 L773.49 149.72 L773.78 148.76 L774.08 147.81 L774.38 146.86 L774.70 145.91 L775.02 144.96 L775.35 144.01 L775.67 143.07 L776.00 142.12 L776.32 141.18 L776.63 140.23 L776.95 139.28 L777.26 138.33 L777.57 137.38 L777.89 136.43 L778.22 135.49 L778.56 134.55 L778.93 133.63 L779.32 132.71 L779.74 131.81 L780.19 130.92 L780.67 130.06 L781.19 129.22 L781.74 128.41 L782.32 127.64 L782.95 126.94 L783.60 126.32 L784.30 125.83 L785.39 125.39 L786.52 125.36 L787.66 125.73 L788.41 126.17 L789.14 126.71 L789.85 127.34 L790.54 128.02 L791.21 128.75 L791.85 129.50 L792.45 130.28 L793.03 131.09 L793.56 131.93 L794.06 132.78 L794.52 133.66 L794.94 134.56 L795.33 135.47 L795.70 136.40 L796.03 137.34 L796.35 138.28 L796.65 139.24 L796.94 140.19 L797.21 141.15 L797.48 142.12 L797.73 143.08 L797.98 144.05 L798.23 145.02 L798.47 145.99 L798.71 146.96 L798.94 147.94 L799.17 148.91 L799.39 149.88 L799.62 150.86 L799.84 151.83 L800.06 152.81 L800.27 153.79 L800.49 154.76 L800.71 155.74 L800.93 156.71 L801.15 157.69 L801.37 158.66 L801.60 159.64 L801.83 160.61 L802.07 161.58 L802.31 162.55 L802.55 163.52 L802.79 164.49 L803.02 165.47 L803.25 166.44 L803.47 167.41 L803.69 168.39 L803.90 169.37 L804.10 170.35 L804.30 171.33 L804.50 172.31 L804.69 173.29 L804.87 174.27 L805.06 175.25 L805.24 176.24 L805.42 177.22 L805.59 178.20 L805.77 179.19 L805.94 180.17 L806.11 181.16 L806.28 182.15 L806.44 183.13 L806.61 184.12 L806.77 185.10 L806.93 186.09 L807.10 187.08 L807.26 188.06 L807.43 189.05 L807.60 190.04 L807.76 191.02 L807.93 192.01 L808.09 193.00 L808.25 193.98 L808.40 194.97 L808.55 195.96 L808.70 196.95 L808.83 197.94 L808.97 198.93 L809.09 199.92 L809.21 200.91 L809.33 201.91 L809.44 202.90 L809.54 203.90 L809.64 204.89 L809.74 205.89 L809.84 206.88 L809.95 207.87 L810.06 208.87 L810.18 209.86 L810.32 210.85 L810.48 211.83 L810.65 212.82 L810.84 213.80 L811.04 214.78 L811.25 215.75 L811.46 216.73 L811.67 217.71 L811.88 218.68 L812.09 219.66 L812.28 220.64 L812.46 221.63 L812.62 222.61 L812.77 223.60 L812.91 224.59 L813.04 225.58 L813.16 226.57 L813.27 227.57 L813.38 228.56 L813.48 229.55 L813.58 230.55 L813.69 231.54 L813.80 232.53 L813.93 233.52 L814.07 234.51 L814.23 235.50 L814.41 236.48 L814.61 237.46 L814.81 238.44 L815.03 239.41 L815.25 240.39 L815.48 241.36 L815.69 242.34 L815.90 243.31 L816.09 244.29 L816.27 245.28 L816.44 246.26 L816.59 247.25 L816.73 248.24 L816.86 249.23 L816.99 250.22 L817.10 251.22 L817.21 252.21 L817.31 253.20 L817.41 254.20 L817.50 255.19 L817.60 256.19 L817.70 257.18 L817.81 258.18 L817.92 259.17 L818.05 260.16 L818.19 261.15 L818.34 262.14 L818.50 263.13 L818.67 264.11 L818.86 265.09 L819.05 266.07 L819.24 267.06 L819.43 268.04 L819.62 269.02 L819.81 270.00 L820.00 270.98 L820.18 271.97 L820.36 272.95 L820.53 273.93 L820.71 274.92 L820.88 275.90 L821.04 276.89 L821.21 277.88 L821.37 278.86 L821.53 279.85 L821.69 280.84 L821.84 281.83 L821.98 282.82 L822.12 283.81 L822.26 284.80 L822.39 285.79 L822.52 286.78 L822.65 287.77 L822.79 288.76 L822.93 289.75 L823.08 290.74 L823.24 291.72 L823.40 292.71 L823.58 293.69 L823.76 294.68 L823.94 295.66 L824.13 296.64 L824.32 297.62 L824.52 298.61 L824.71 299.59 L824.91 300.57 L825.11 301.55 L825.31 302.53 L825.52 303.50 L825.72 304.48 L825.92 305.46 L826.12 306.44 L826.32 307.42 L826.51 308.40 L826.69 309.39 L826.87 310.37 L827.04 311.36 L827.21 312.34 L827.37 313.33 L827.53 314.32 L827.69 315.30 L827.85 316.29 L828.02 317.27 L828.19 318.26 L828.37 319.24 L828.56 320.22 L828.76 321.20 L828.97 322.18 L829.19 323.16 L829.42 324.13 L829.67 325.09 L829.93 326.06 L830.22 327.01 L830.52 327.97 L830.84 328.91 L831.20 329.84 L831.58 330.76 L831.99 331.66 L832.43 332.55 L832.91 333.43 L833.41 334.29 L833.94 335.13 L834.49 335.96 L835.05 336.78 L835.63 337.60 L836.23 338.40 L836.83 339.20 L837.44 339.98 L838.06 340.75 L838.71 341.48 L839.38 342.17 L840.07 342.77 L840.80 343.28 L841.56 343.64 L842.34 343.84 L843.52 343.79 L844.30 343.54 L845.06 343.14 L845.79 342.61 L846.48 341.98 L847.15 341.28 L847.79 340.54 L848.41 339.76 L849.01 338.97 L849.59 338.16 L850.15 337.33 L850.69 336.50 L851.21 335.65 L851.71 334.78 L852.17 333.90 L852.61 333.01 L853.02 332.10 L853.39 331.18 L853.73 330.25 L854.04 329.30 L854.33 328.35 L854.59 327.39 L854.85 326.42 L855.09 325.45 L855.34 324.48 L855.59 323.51 L855.84 322.55 L856.10 321.58 L856.37 320.62 L856.65 319.66 L856.94 318.70 L857.24 317.75 L857.56 316.80 L857.89 315.86 L858.23 314.92 L858.57 313.98 L858.93 313.05 L859.28 312.12 L859.63 311.18 L859.97 310.24 L860.30 309.30 L860.61 308.35 L860.90 307.39 L861.17 306.43 L861.42 305.47 L861.66 304.50 L861.88 303.52 L862.09 302.55 L862.29 301.57 L862.48 300.58 L862.65 299.60 L862.83 298.62 L862.99 297.63 L863.15 296.64 L863.30 295.65 L863.45 294.67 L863.60 293.68 L863.74 292.69 L863.88 291.70 L864.02 290.71 L864.16 289.72 L864.30 288.73 L864.45 287.74 L864.61 286.75 L864.78 285.77 L864.97 284.79 L865.17 283.81 L865.39 282.84 L865.63 281.87 L865.88 280.90 L866.14 279.93 L866.40 278.97 L866.66 278.01 L866.92 277.04 L867.16 276.07 L867.39 275.10 L867.61 274.12 L867.81 273.15 L868.01 272.17 L868.20 271.18 L868.38 270.20 L868.56 269.22 L868.75 268.24 L868.94 267.26 L869.14 266.28 L869.34 265.30 L869.57 264.32 L869.80 263.35 L870.05 262.39 L870.32 261.42 L870.60 260.47 L870.89 259.51 L871.19 258.56 L871.49 257.60 L871.79 256.65 L872.09 255.70 L872.38 254.74 L872.65 253.78 L872.91 252.82 L873.16 251.85 L873.38 250.87 L873.59 249.90 L873.78 248.92 L873.95 247.93 L874.11 246.95 L874.26 245.96 L874.39 244.97 L874.52 243.98 L874.65 242.98 L874.77 241.99 L874.89 241.00 L875.01 240.01 L875.13 239.02 L875.26 238.02 L875.39 237.03 L875.52 236.04 L875.66 235.05 L875.80 234.06 L875.94 233.07 L876.08 232.08 L876.23 231.09 L876.38 230.10 L876.54 229.11 L876.70 228.13 L876.87 227.14 L877.04 226.16 L877.23 225.18 L877.42 224.19 L877.62 223.22 L877.82 222.24 L878.03 221.26 L878.25 220.28 L878.48 219.31 L878.71 218.34 L878.94 217.37 L879.19 216.40 L879.44 215.43 L879.70 214.46 L879.97 213.50 L880.25 212.54 L880.53 211.58 L880.82 210.62 L881.12 209.67 L881.41 208.72 L881.72 207.76 L882.02 206.81 L882.33 205.86 L882.63 204.91 L882.94 203.95 L883.25 203.00 L883.55 202.05 L883.85 201.10 L884.15 200.14 L884.45 199.19 L884.74 198.23 L885.03 197.27 L885.31 196.31 L885.60 195.36 L885.88 194.40 L886.16 193.44 L886.45 192.48 L886.75 191.53 L887.06 190.58 L887.38 189.64 L887.74 188.70 L888.11 187.78 L888.52 186.88 L888.96 185.99 L889.44 185.12 L889.94 184.26 L890.48 183.42 L891.05 182.60 L891.63 181.80 L892.25 181.01 L892.88 180.25 L893.54 179.51 L894.22 178.79 L894.93 178.13 L895.68 177.51 L896.46 176.98 L897.28 176.53 L898.12 176.21 L898.99 176.02 L899.88 175.97 L900.76 176.07 L901.62 176.31 L902.47 176.68 L903.28 177.14 L904.07 177.70 L904.82 178.32 L905.54 178.98 L906.24 179.69 L906.92 180.42 L907.57 181.17 L908.20 181.94 L908.82 182.72 L909.41 183.52 L909.98 184.34 L910.52 185.17 L911.04 186.02 L911.53 186.89 L911.99 187.77 L912.43 188.67 L912.84 189.57 L913.23 190.49 L913.59 191.42 L913.94 192.36 L914.28 193.30 L914.60 194.24 L914.91 195.19 L915.21 196.15 L915.51 197.10 L915.81 198.05 L916.11 199.01 L916.40 199.97 L916.69 200.92 L916.97 201.88 L917.25 202.84 L917.53 203.80 L917.81 204.76 L918.08 205.73 L918.35 206.69 L918.62 207.65 L918.88 208.62 L919.15 209.58 L919.41 210.55 L919.68 211.51 L919.94 212.47 L920.20 213.44 L920.47 214.40 L920.73 215.37 L920.99 216.33 L921.25 217.30 L921.51 218.26 L921.77 219.23 L922.02 220.20 L922.27 221.17 L922.52 222.13 L922.77 223.10 L923.02 224.07 L923.27 225.04 L923.51 226.01 L923.76 226.98 L924.01 227.95 L924.26 228.91 L924.52 229.88 L924.77 230.85 L925.02 231.82 L925.27 232.78 L925.53 233.75 L925.78 234.72 L926.03 235.69 L926.29 236.65 L926.54 237.62 L926.80 238.59 L927.06 239.55 L927.32 240.52 L927.58 241.48 L927.84 242.45 L928.11 243.41 L928.38 244.37 L928.65 245.34 L928.93 246.30 L929.20 247.26 L929.48 248.22 L929.76 249.18 L930.04 250.14 L930.32 251.10 L930.60 252.06 L930.88 253.02 L931.16 253.98 L931.44 254.94 L931.73 255.90 L932.01 256.86 L932.30 257.81 L932.59 258.77 L932.88 259.73 L933.18 260.68 L933.48 261.64 L933.77 262.59 L934.08 263.55 L934.38 264.50 L934.68 265.45 L934.99 266.40 L935.29 267.36 L935.60 268.31 L935.91 269.26 L936.22 270.21 L936.53 271.16 L936.84 272.11 L937.15 273.06 L937.46 274.01 L937.77 274.96 L938.08 275.91 L938.40 276.86 L938.72 277.81 L939.04 278.76 L939.36 279.70 L939.68 280.65 L940.01 281.59 L940.35 282.54 L940.69 283.48 L941.03 284.42 L941.38 285.35 L941.73 286.29 L942.09 287.22 L942.46 288.15 L942.84 289.07 L943.23 289.99 L943.64 290.91 L944.06 291.81 L944.49 292.71 L944.94 293.60 L945.40 294.49 L945.89 295.36 L946.38 296.23 L946.90 297.08 L947.43 297.93 L947.98 298.76 L948.55 299.58 L949.14 300.37 L949.76 301.15 L950.41 301.90 L951.09 302.61 L951.80 303.27 L952.56 303.87 L953.35 304.38 L954.19 304.81 L955.06 305.12 L955.95 305.31 L956.86 305.37 L957.77 305.29 L958.67 305.10 L959.55 304.78 L960.40 304.37 L961.22 303.86 L962.00 303.29 L962.74 302.66 L963.45 301.97 L964.13 301.25 L964.77 300.50 L965.39 299.72 L965.98 298.92 L966.53 298.10 L967.06 297.25 L967.57 296.40 L968.06 295.53 L968.52 294.64 L968.97 293.75 L969.40 292.85 L969.82 291.94 L970.24 291.03 L970.64 290.12 L971.04 289.20 L971.43 288.28 L971.82 287.36 L972.20 286.44 L972.58 285.51 L972.96 284.59 L973.33 283.66 L973.69 282.73 L974.06 281.80 L974.42 280.86 L974.78 279.93 L975.14 279.00 L975.49 278.06 L975.85 277.13 L976.22 276.20 L976.58 275.27 L976.95 274.34 L977.33 273.41 L977.72 272.49 L978.11 271.57 L978.52 270.66 L978.94 269.76 L979.37 268.86 L979.82 267.96 L980.27 267.07 L980.73 266.18 L981.19 265.29 L981.65 264.41 L982.10 263.52 L982.55 262.62 L982.98 261.72 L983.40 260.82 L983.81 259.90 L984.21 258.99 L984.60 258.07 L984.97 257.14 L985.33 256.21 L985.68 255.27 L986.02 254.33 L986.35 253.39 L986.67 252.44 L986.97 251.49 L987.27 250.53 L987.55 249.58 L987.83 248.62 L988.10 247.65 L988.36 246.69 L988.62 245.72 L988.88 244.76 L989.14 243.79 L989.39 242.82 L989.65 241.86 L989.91 240.89 L990.16 239.92 L990.42 238.96 L990.68 237.99 L990.94 237.03 L991.20 236.06 L991.46 235.09 L991.72 234.13 L991.99 233.17 L992.26 232.20 L992.54 231.25 L992.83 230.29 L993.13 229.34 L993.44 228.39 L993.77 227.44 L994.10 226.50 L994.45 225.56 L994.81 224.63 L995.18 223.70 L995.57 222.78 L995.97 221.87 L996.38 220.95 L996.80 220.05 L997.24 219.15 L997.69 218.26 L998.16 217.38 L998.65 216.51 L999.16 215.66 L999.69 214.81 L1000.24 213.98 L1000.82 213.17 L1001.43 212.38 L1002.06 211.62 L1002.72 210.87 L1003.40 210.15 L1004.12 209.47 L1004.86 208.81 L1005.63 208.19 L1006.43 207.61 L1007.26 207.08 L1008.11 206.60 L1008.99 206.18 L1009.90 205.83 L1010.83 205.55 L1011.77 205.35 L1012.73 205.24 L1013.69 205.21 L1014.65 205.28 L1015.60 205.43 L1016.54 205.66 L1017.46 205.98 L1018.36 206.36 L1019.22 206.81 L1020.06 207.32 L1020.87 207.88 L1021.65 208.49 L1022.39 209.14 L1023.10 209.83 L1023.77 210.56 L1024.42 211.31 L1025.03 212.09 L1025.62 212.89 L1026.17 213.72 L1026.71 214.56 L1027.22 215.41 L1027.72 216.28 L1028.20 217.15 L1028.67 218.04 L1029.13 218.92 L1029.57 219.82 L1030.02 220.71 L1030.45 221.61 L1030.89 222.51 L1031.32 223.42 L1031.75 224.32 L1032.18 225.22 L1032.60 226.13 L1033.03 227.03 L1033.46 227.94 L1033.88 228.84 L1034.30 229.75 L1034.72 230.66 L1035.14 231.57 L1035.55 232.48 L1035.96 233.39 L1036.37 234.30 L1036.77 235.22 L1037.18 236.13 L1037.58 237.05 L1037.98 237.96 L1038.39 238.88 L1038.79 239.79 L1039.20 240.70 L1039.61 241.61 L1040.03 242.52 L1040.45 243.43 L1040.87 244.34 L1041.30 245.24 L1041.73 246.14 L1042.16 247.04 L1042.60 247.94 L1043.04 248.84 L1043.48 249.74 L1043.93 250.63 L1044.37 251.53 L1044.82 252.42 L1045.27 253.31 L1045.72 254.21 L1046.18 255.10 L1046.63 255.99 L1047.09 256.88 L1047.55 257.77 L1048.01 258.65 L1048.47 259.54 L1048.94 260.42 L1049.41 261.31 L1049.89 262.18 L1050.37 263.06 L1050.86 263.93 L1051.35 264.80 L1051.85 265.67 L1052.36 266.53 L1052.87 267.39 L1053.40 268.24 L1053.93 269.08 L1054.48 269.92 L1055.03 270.75 L1055.60 271.57 L1056.18 272.38 L1056.78 273.18 L1057.39 273.97 L1058.02 274.74 L1058.67 275.50 L1059.34 276.23 L1060.04 276.95 L1060.75 277.63 L1061.50 278.29 L1062.26 278.91 L1063.06 279.49 L1063.89 280.03 L1064.74 280.50 L1065.63 280.92 L1066.53 281.27 L1067.46 281.54 L1068.41 281.73 L1069.37 281.83 L1070.33 281.85 L1071.29 281.78 L1072.24 281.62 L1073.19 281.38 L1074.11 281.08 L1075.02 280.71 L1075.91 280.28 L1076.78 279.81 L1077.62 279.29 L1078.45 278.74 L1079.25 278.16 L1080.04 277.55 L1080.81 276.92 L1081.55 276.26 L1082.27 275.57 L1082.97 274.86 L1083.65 274.13 L1084.30 273.38 L1084.94 272.61 L1085.55 271.83 L1086.13 271.02 L1086.70 270.20 L1087.26 269.37 L1087.79 268.53 L1088.32 267.68 L1088.83 266.82 L1089.33 265.96 L1089.83 265.09 L1090.33 264.22 L1090.82 263.36 L1091.32 262.49 L1091.81 261.62 L1092.31 260.75 L1092.81 259.89 L1093.32 259.02 L1093.83 258.17 L1094.35 257.31 L1094.88 256.46 L1095.41 255.61 L1095.95 254.77 L1096.50 253.94 L1097.05 253.11 L1097.62 252.28 L1098.19 251.46 L1098.76 250.64 L1099.34 249.83 L1099.92 249.01 L1100.50 248.20 L1101.08 247.38 L1101.66 246.57 L1102.23 245.75 L1102.80 244.92 L1103.37 244.10 L1103.93 243.27 L1104.49 242.45 L1105.05 241.62 L1105.62 240.79 L1106.18 239.97 L1106.75 239.15 L1107.33 238.33 L1107.91 237.52 L1108.50 236.71 L1109.10 235.91 L1109.71 235.12 L1110.33 234.34 L1110.97 233.57 L1111.62 232.81 L1112.28 232.07 L1112.96 231.34 L1113.66 230.62 L1114.37 229.93 L1115.10 229.25 L1115.85 228.60 L1116.63 227.97 L1117.42 227.37 L1118.23 226.81 L1119.07 226.28 L1119.93 225.79 L1120.81 225.34 L1121.72 224.94 L1122.64 224.60 L1123.58 224.31 L1124.53 224.08 L1125.50 223.92 L1126.47 223.82 L1127.45 223.79 L1128.43 223.82 L1129.40 223.92 L1130.37 224.09 L1131.32 224.32 L1132.26 224.60 L1133.19 224.95 L1134.09 225.34 L1134.97 225.78 L1135.84 226.27 L1136.67 226.80 L1137.49 227.36 L1138.29 227.95 L1139.06 228.58 L1139.82 229.22 L1140.56 229.89 L1141.28 230.58 L1141.99 231.28 L1142.69 232.00 L1143.37 232.72 L1144.05 233.46 L1144.72 234.20 L1145.39 234.95 L1146.05 235.70 L1146.70 236.46 L1147.35 237.22 L1147.99 237.98 L1148.63 238.75 L1149.27 239.52 L1149.90 240.30 L1150.52 241.08 L1151.14 241.87 L1151.75 242.66 L1152.35 243.45 L1152.95 244.25 L1153.54 245.06 L1154.12 245.87 L1154.70 246.69 L1155.27 247.51 L1155.84 248.34 L1156.40 249.16 L1156.97 249.98 L1157.54 250.81 L1158.11 251.62 L1158.70 252.43 L1159.30 253.23 L1159.91 254.02 L1160.54 254.80 L1161.18 255.56 L1161.84 256.31 L1162.51 257.05 L1163.20 257.77 L1163.90 258.48 L1164.62 259.17 L1165.36 259.84 L1166.10 260.51 L1166.86 261.15 L1167.64 261.78 L1168.42 262.40 L1169.22 262.99 L1170.04 263.57 L1170.86 264.13 L1171.70 264.67 L1172.55 265.19 L1173.42 265.68 L1174.30 266.16 L1175.19 266.60 L1176.09 267.02 L1177.01 267.41 L1177.93 267.76 L1178.87 268.09 L1179.82 268.37 L1180.78 268.62 L1181.75 268.82 L1182.73 268.99 L1183.71 269.11 L1184.70 269.20 L1185.69 269.24 L1186.69 269.22 L1187.68 269.15 L1188.67 269.01 L1189.65 268.80" fill="none" stroke="#3f51a6" stroke-width="4.7" stroke-dasharray="14.6 3.8 7.4 3.8"/>
<g font-family="Liberation Serif, serif" font-weight="bold" font-size="37" fill="#262626" stroke="#262626" stroke-width="0.7"><text transform="translate(66.30 498.75) scale(0.91 1)" text-anchor="end">0</text><text transform="translate(66.30 380.15) scale(0.91 1)" text-anchor="end">1</text><text transform="translate(66.30 261.55) scale(0.91 1)" text-anchor="end">2</text><text transform="translate(66.30 142.95) scale(0.91 1)" text-anchor="end">3</text><text transform="translate(66.30 24.35) scale(0.91 1)" text-anchor="end">4</text><text transform="translate(176.75 531.00) scale(0.91 1)" text-anchor="middle">1</text><text transform="translate(756.40 531.00) scale(0.91 1)" text-anchor="middle">1</text><text transform="translate(284.94 531.00) scale(0.91 1)" text-anchor="middle">2</text><text transform="translate(864.90 531.00) scale(0.91 1)" text-anchor="middle">2</text><text transform="translate(393.13 531.00) scale(0.91 1)" text-anchor="middle">3</text><text transform="translate(973.40 531.00) scale(0.91 1)" text-anchor="middle">3</text><text transform="translate(501.32 531.00) scale(0.91 1)" text-anchor="middle">4</text><text transform="translate(1081.90 531.00) scale(0.91 1)" text-anchor="middle">4</text><text transform="translate(609.51 531.00) scale(0.91 1)" text-anchor="middle">5</text><text transform="translate(1190.40 531.00) scale(0.91 1)" text-anchor="middle">5</text><text transform="translate(1202.30 25.96) scale(0.91 1)" text-anchor="start">3</text><text transform="translate(1202.30 144.13) scale(0.91 1)" text-anchor="start">1.5</text><text transform="translate(1202.30 262.30) scale(0.91 1)" text-anchor="start">0</text><text transform="translate(1202.30 380.47) scale(0.91 1)" text-anchor="start">-1.5</text><text transform="translate(1202.30 498.64) scale(0.91 1)" text-anchor="start">-3</text></g>
<line x1="404.70" y1="52.90" x2="478.10" y2="52.90" stroke="#000000" stroke-width="4.7" stroke-dasharray="none"/><g font-family="Liberation Serif, serif" fill="#000"><text x="483.70" y="60.80" font-size="29.5" font-style="italic">ϵ</text><text transform="translate(502.80 63.30) scale(1.5 1)" font-size="32">=</text><text x="536.50" y="60.80" font-size="32">4</text><text transform="translate(551.70 60.80) scale(1.13 1)" font-size="32">Γ</text><text x="570.80" y="65.00" font-size="23" font-style="italic">r</text></g><line x1="404.70" y1="90.40" x2="478.10" y2="90.40" stroke="#cc2228" stroke-width="4.7" stroke-dasharray="3.6 3.7"/><g font-family="Liberation Serif, serif" fill="#000"><text x="483.70" y="98.10" font-size="29.5" font-style="italic">ϵ</text><text transform="translate(502.80 100.60) scale(1.5 1)" font-size="32">=</text><text x="536.50" y="98.10" font-size="32">5</text><text transform="translate(551.70 98.10) scale(1.13 1)" font-size="32">Γ</text><text x="570.80" y="102.30" font-size="23" font-style="italic">r</text></g><line x1="404.70" y1="127.60" x2="478.10" y2="127.60" stroke="#3f51a6" stroke-width="4.7" stroke-dasharray="14.6 3.8 7.4 3.8"/><g font-family="Liberation Serif, serif" fill="#000"><text x="483.70" y="135.40" font-size="29.5" font-style="italic">ϵ</text><text transform="translate(502.80 137.90) scale(1.5 1)" font-size="32">=</text><text x="536.50" y="135.40" font-size="32">6</text><text transform="translate(551.70 135.40) scale(1.13 1)" font-size="32">Γ</text><text x="570.80" y="139.60" font-size="23" font-style="italic">r</text></g>
<line x1="985.70" y1="54.70" x2="1059.10" y2="54.70" stroke="#000000" stroke-width="4.7" stroke-dasharray="none"/><g font-family="Liberation Serif, serif" fill="#000"><text x="1064.70" y="62.60" font-size="29.5" font-style="italic">ϵ</text><text transform="translate(1083.80 65.10) scale(1.5 1)" font-size="32">=</text><text x="1117.50" y="62.60" font-size="32">4</text><text transform="translate(1132.70 62.60) scale(1.13 1)" font-size="32">Γ</text><text x="1151.80" y="66.80" font-size="23" font-style="italic">r</text></g><line x1="985.70" y1="92.20" x2="1059.10" y2="92.20" stroke="#cc2228" stroke-width="4.7" stroke-dasharray="3.6 3.7"/><g font-family="Liberation Serif, serif" fill="#000"><text x="1064.70" y="99.90" font-size="29.5" font-style="italic">ϵ</text><text transform="translate(1083.80 102.40) scale(1.5 1)" font-size="32">=</text><text x="1117.50" y="99.90" font-size="32">5</text><text transform="translate(1132.70 99.90) scale(1.13 1)" font-size="32">Γ</text><text x="1151.80" y="104.10" font-size="23" font-style="italic">r</text></g><line x1="985.70" y1="129.40" x2="1059.10" y2="129.40" stroke="#3f51a6" stroke-width="4.7" stroke-dasharray="14.6 3.8 7.4 3.8"/><g font-family="Liberation Serif, serif" fill="#000"><text x="1064.70" y="137.20" font-size="29.5" font-style="italic">ϵ</text><text transform="translate(1083.80 139.70) scale(1.5 1)" font-size="32">=</text><text x="1117.50" y="137.20" font-size="32">6</text><text transform="translate(1132.70 137.20) scale(1.13 1)" font-size="32">Γ</text><text x="1151.80" y="141.40" font-size="23" font-style="italic">r</text></g>
<g font-family="Liberation Serif, serif" fill="#000"><text transform="translate(195.2 72.6) scale(0.85 1)" font-size="40">(</text><text transform="translate(205.7 74.3) scale(0.95 1)" font-size="39">a</text><text transform="translate(220.9 72.6) scale(0.85 1)" font-size="40">)</text></g>
<g font-family="Liberation Serif, serif" fill="#000"><text transform="translate(773.9 72.2) scale(0.85 1)" font-size="40">(</text><text transform="translate(785.0 73.9) scale(1.0 1)" font-size="37">b</text><text transform="translate(801.8 72.2) scale(0.85 1)" font-size="40">)</text></g>
<text transform="translate(29.3 249.4) rotate(-90) scale(1.09 1)" text-anchor="middle" font-family="Liberation Serif, serif" font-size="40" fill="#262626"><tspan font-style="italic">v</tspan>(<tspan font-style="italic">t</tspan>)</text>
<text transform="translate(1290.8 250.7) rotate(-90) scale(1.12 1)" text-anchor="middle" font-family="Liberation Serif, serif" font-size="40" fill="#262626"><tspan font-style="italic">σ</tspan>(<tspan font-style="italic">t</tspan>)</text>
<text transform="translate(344.5 578) scale(1.3 1)" text-anchor="middle" font-family="Liberation Serif, serif" font-style="italic" font-size="44" fill="#262626">τ</text>
<text transform="translate(925.6 578) scale(1.3 1)" text-anchor="middle" font-family="Liberation Serif, serif" font-style="italic" font-size="44" fill="#262626">τ</text>
</svg>
</body></html>
